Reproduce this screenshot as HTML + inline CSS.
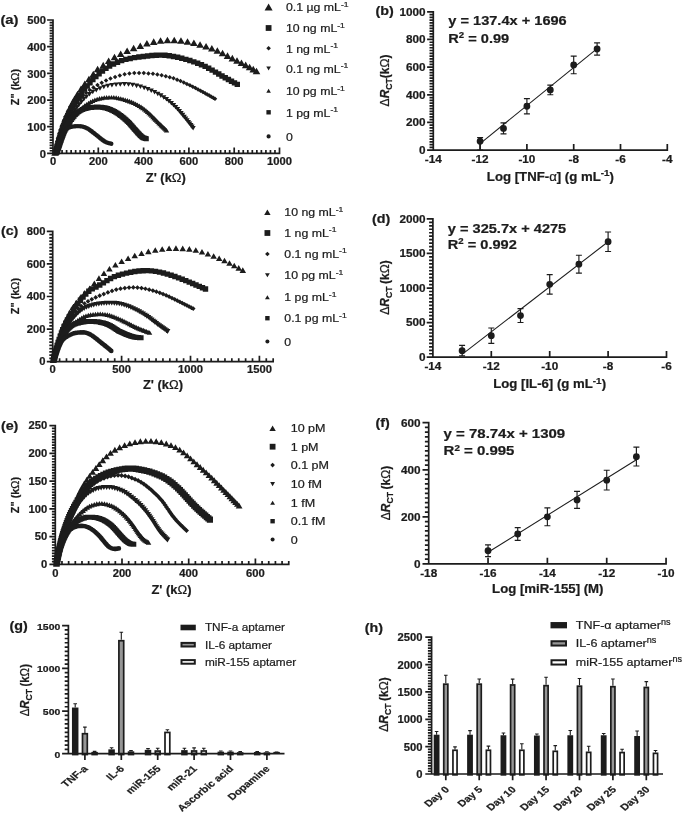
<!DOCTYPE html>
<html><head><meta charset="utf-8"><title>Figure</title><style>html,body{margin:0;padding:0;background:#fff}svg{display:block}text{stroke:#1c1c1c;stroke-width:.22px}</style></head><body>
<svg width="685" height="817" viewBox="0 0 685 817" font-family='"Liberation Sans", Arial, Helvetica, sans-serif' fill="#1c1c1c">
<rect width="685" height="817" fill="#fff"/>
<path d="M53,19.15V153.4H280.35M53,153.4v-5.9M98.3,153.4v-5.9M143.6,153.4v-5.9M188.9,153.4v-5.9M234.2,153.4v-5.9M279.5,153.4v-5.9M57.53,153.4v-3.4M62.06,153.4v-3.4M66.59,153.4v-3.4M71.12,153.4v-3.4M75.65,153.4v-3.4M80.18,153.4v-3.4M84.71,153.4v-3.4M89.24,153.4v-3.4M93.77,153.4v-3.4M102.83,153.4v-3.4M107.36,153.4v-3.4M111.89,153.4v-3.4M116.42,153.4v-3.4M120.95,153.4v-3.4M125.48,153.4v-3.4M130.01,153.4v-3.4M134.54,153.4v-3.4M139.07,153.4v-3.4M148.13,153.4v-3.4M152.66,153.4v-3.4M157.19,153.4v-3.4M161.72,153.4v-3.4M166.25,153.4v-3.4M170.78,153.4v-3.4M175.31,153.4v-3.4M179.84,153.4v-3.4M184.37,153.4v-3.4M193.43,153.4v-3.4M197.96,153.4v-3.4M202.49,153.4v-3.4M207.02,153.4v-3.4M211.55,153.4v-3.4M216.08,153.4v-3.4M220.61,153.4v-3.4M225.14,153.4v-3.4M229.67,153.4v-3.4M238.73,153.4v-3.4M243.26,153.4v-3.4M247.79,153.4v-3.4M252.32,153.4v-3.4M256.85,153.4v-3.4M261.38,153.4v-3.4M265.91,153.4v-3.4M270.44,153.4v-3.4M274.97,153.4v-3.4M53,153.4h-5.9M53,126.72h-5.9M53,100.04h-5.9M53,73.36h-5.9M53,46.68h-5.9M53,20h-5.9M53,150.73h-3.4M53,148.06h-3.4M53,145.4h-3.4M53,142.73h-3.4M53,140.06h-3.4M53,137.39h-3.4M53,134.72h-3.4M53,132.06h-3.4M53,129.39h-3.4M53,124.05h-3.4M53,121.38h-3.4M53,118.72h-3.4M53,116.05h-3.4M53,113.38h-3.4M53,110.71h-3.4M53,108.04h-3.4M53,105.38h-3.4M53,102.71h-3.4M53,97.37h-3.4M53,94.7h-3.4M53,92.04h-3.4M53,89.37h-3.4M53,86.7h-3.4M53,84.03h-3.4M53,81.36h-3.4M53,78.7h-3.4M53,76.03h-3.4M53,70.69h-3.4M53,68.02h-3.4M53,65.36h-3.4M53,62.69h-3.4M53,60.02h-3.4M53,57.35h-3.4M53,54.68h-3.4M53,52.02h-3.4M53,49.35h-3.4M53,44.01h-3.4M53,41.34h-3.4M53,38.68h-3.4M53,36.01h-3.4M53,33.34h-3.4M53,30.67h-3.4M53,28h-3.4M53,25.34h-3.4M53,22.67h-3.4" fill="none" stroke="#1c1c1c" stroke-width="1.7"/>
<text transform="translate(53 165.4) scale(1.12 1)" font-size="10" font-weight="bold" text-anchor="middle">0</text>
<text transform="translate(98.3 165.4) scale(1.12 1)" font-size="10" font-weight="bold" text-anchor="middle">200</text>
<text transform="translate(143.6 165.4) scale(1.12 1)" font-size="10" font-weight="bold" text-anchor="middle">400</text>
<text transform="translate(188.9 165.4) scale(1.12 1)" font-size="10" font-weight="bold" text-anchor="middle">600</text>
<text transform="translate(234.2 165.4) scale(1.12 1)" font-size="10" font-weight="bold" text-anchor="middle">800</text>
<text transform="translate(279.5 165.4) scale(1.12 1)" font-size="10" font-weight="bold" text-anchor="middle">1000</text>
<text transform="translate(46 157.6) scale(1.12 1)" font-size="10" font-weight="bold" text-anchor="end">0</text>
<text transform="translate(46 130.92) scale(1.12 1)" font-size="10" font-weight="bold" text-anchor="end">100</text>
<text transform="translate(46 104.24) scale(1.12 1)" font-size="10" font-weight="bold" text-anchor="end">200</text>
<text transform="translate(46 77.56) scale(1.12 1)" font-size="10" font-weight="bold" text-anchor="end">300</text>
<text transform="translate(46 50.88) scale(1.12 1)" font-size="10" font-weight="bold" text-anchor="end">400</text>
<text transform="translate(46 24.2) scale(1.12 1)" font-size="10" font-weight="bold" text-anchor="end">500</text>
<text transform="translate(0.4 24.3) scale(1.14 1)" font-size="13" font-weight="bold">(a)</text>
<text transform="translate(18.8 87) rotate(-90)" font-size="10.9" font-weight="bold" text-anchor="middle">Z" (k<tspan font-weight="normal">Ω</tspan>)</text>
<text transform="translate(165.8 181.8) scale(1.08 1)" font-size="12" font-weight="bold" text-anchor="middle">Z' (k<tspan font-weight="normal">Ω</tspan>)</text>
<path d="M51.3,155.87h7.6l-3.8,-6.54zM51.77,153.87h7.6l-3.8,-6.54zM52.36,151.42h7.6l-3.8,-6.54zM53.03,148.62h7.6l-3.8,-6.54zM53.8,145.52h7.6l-3.8,-6.54zM54.67,142.13h7.6l-3.8,-6.54zM55.66,138.48h7.6l-3.8,-6.54zM56.78,134.58h7.6l-3.8,-6.54zM58.07,130.46h7.6l-3.8,-6.54zM59.55,126.14h7.6l-3.8,-6.54zM61.27,121.63h7.6l-3.8,-6.54zM63.25,116.98h7.6l-3.8,-6.54zM65.47,112.18h7.6l-3.8,-6.54zM67.92,107.25h7.6l-3.8,-6.54zM70.65,102.22h7.6l-3.8,-6.54zM73.73,97.17h7.6l-3.8,-6.54zM77.19,92.15h7.6l-3.8,-6.54zM80.96,87.13h7.6l-3.8,-6.54zM85.11,82.23h7.6l-3.8,-6.54zM89.49,77.32h7.6l-3.8,-6.54zM93.81,72.2h7.6l-3.8,-6.54zM99.43,68.38h7.6l-3.8,-6.54zM104.86,64.12h7.6l-3.8,-6.54zM110.7,60.31h7.6l-3.8,-6.54zM116.89,57.01h7.6l-3.8,-6.54zM123.33,54.12h7.6l-3.8,-6.54zM129.83,51.35h7.6l-3.8,-6.54zM136.48,48.96h7.6l-3.8,-6.54zM143.11,46.59h7.6l-3.8,-6.54zM149.9,44.89h7.6l-3.8,-6.54zM156.76,43.73h7.6l-3.8,-6.54zM163.63,43.19h7.6l-3.8,-6.54zM170.45,43.2h7.6l-3.8,-6.54zM177.17,43.72h7.6l-3.8,-6.54zM183.72,44.69h7.6l-3.8,-6.54zM190.1,46.07h7.6l-3.8,-6.54zM196.27,47.72h7.6l-3.8,-6.54zM202.26,49.54h7.6l-3.8,-6.54zM208.04,51.54h7.6l-3.8,-6.54zM213.55,53.81h7.6l-3.8,-6.54zM218.76,56.32h7.6l-3.8,-6.54zM223.73,58.91h7.6l-3.8,-6.54zM228.54,61.4h7.6l-3.8,-6.54zM233.2,63.72h7.6l-3.8,-6.54zM237.67,65.95h7.6l-3.8,-6.54zM241.88,68.15h7.6l-3.8,-6.54zM245.81,70.32h7.6l-3.8,-6.54zM249.45,72.39h7.6l-3.8,-6.54zM252.7,74.27h7.6l-3.8,-6.54z" fill="#1c1c1c"/>
<path d="M52.9,149.9h5.4v5.4h-5.4zM53.4,147.99h5.4v5.4h-5.4zM53.98,145.76h5.4v5.4h-5.4zM54.62,143.33h5.4v5.4h-5.4zM55.32,140.74h5.4v5.4h-5.4zM56.08,138.01h5.4v5.4h-5.4zM56.89,135.16h5.4v5.4h-5.4zM57.77,132.21h5.4v5.4h-5.4zM58.73,129.17h5.4v5.4h-5.4zM59.78,126.04h5.4v5.4h-5.4zM60.92,122.85h5.4v5.4h-5.4zM62.18,119.61h5.4v5.4h-5.4zM63.56,116.32h5.4v5.4h-5.4zM65.07,113.01h5.4v5.4h-5.4zM66.7,109.66h5.4v5.4h-5.4zM68.43,106.29h5.4v5.4h-5.4zM70.27,102.9h5.4v5.4h-5.4zM72.22,99.5h5.4v5.4h-5.4zM74.34,96.14h5.4v5.4h-5.4zM76.65,92.83h5.4v5.4h-5.4zM79.13,89.59h5.4v5.4h-5.4zM81.76,86.4h5.4v5.4h-5.4zM84.49,83.23h5.4v5.4h-5.4zM87.29,80.09h5.4v5.4h-5.4zM90.17,76.95h5.4v5.4h-5.4zM93.18,73.91h5.4v5.4h-5.4zM96.41,71.04h5.4v5.4h-5.4zM99.78,68.31h5.4v5.4h-5.4zM103.25,65.67h5.4v5.4h-5.4zM106.9,63.26h5.4v5.4h-5.4zM110.82,61.27h5.4v5.4h-5.4zM114.84,59.5h5.4v5.4h-5.4zM118.96,57.94h5.4v5.4h-5.4zM123.19,56.7h5.4v5.4h-5.4zM127.5,55.74h5.4v5.4h-5.4zM131.83,54.97h5.4v5.4h-5.4zM136.19,54.34h5.4v5.4h-5.4zM140.55,53.84h5.4v5.4h-5.4zM144.91,53.34h5.4v5.4h-5.4zM149.25,52.84h5.4v5.4h-5.4zM153.6,52.5h5.4v5.4h-5.4zM157.94,52.41h5.4v5.4h-5.4zM162.27,52.62h5.4v5.4h-5.4zM166.55,53.09h5.4v5.4h-5.4zM170.78,53.77h5.4v5.4h-5.4zM174.96,54.61h5.4v5.4h-5.4zM179.08,55.59h5.4v5.4h-5.4zM183.15,56.68h5.4v5.4h-5.4zM187.16,57.87h5.4v5.4h-5.4zM191.1,59.14h5.4v5.4h-5.4zM194.98,60.52h5.4v5.4h-5.4zM198.76,62.03h5.4v5.4h-5.4zM202.43,63.7h5.4v5.4h-5.4zM205.98,65.52h5.4v5.4h-5.4zM209.42,67.44h5.4v5.4h-5.4zM212.78,69.41h5.4v5.4h-5.4zM216.07,71.36h5.4v5.4h-5.4zM219.33,73.25h5.4v5.4h-5.4zM222.55,75.08h5.4v5.4h-5.4zM225.71,76.84h5.4v5.4h-5.4zM228.8,78.54h5.4v5.4h-5.4zM231.78,80.17h5.4v5.4h-5.4zM234.6,81.7h5.4v5.4h-5.4z" fill="#1c1c1c"/>
<path d="M53.75,152.6l2.25,-2.25l2.25,2.25l-2.25,2.25zM54.09,151.4l2.25,-2.25l2.25,2.25l-2.25,2.25zM54.44,150.14l2.25,-2.25l2.25,2.25l-2.25,2.25zM54.82,148.8l2.25,-2.25l2.25,2.25l-2.25,2.25zM55.23,147.39l2.25,-2.25l2.25,2.25l-2.25,2.25zM55.66,145.89l2.25,-2.25l2.25,2.25l-2.25,2.25zM56.12,144.31l2.25,-2.25l2.25,2.25l-2.25,2.25zM56.62,142.64l2.25,-2.25l2.25,2.25l-2.25,2.25zM57.15,140.87l2.25,-2.25l2.25,2.25l-2.25,2.25zM57.73,139.01l2.25,-2.25l2.25,2.25l-2.25,2.25zM58.36,137.05l2.25,-2.25l2.25,2.25l-2.25,2.25zM59.05,134.99l2.25,-2.25l2.25,2.25l-2.25,2.25zM59.81,132.82l2.25,-2.25l2.25,2.25l-2.25,2.25zM60.64,130.55l2.25,-2.25l2.25,2.25l-2.25,2.25zM61.56,128.16l2.25,-2.25l2.25,2.25l-2.25,2.25zM62.57,125.66l2.25,-2.25l2.25,2.25l-2.25,2.25zM63.69,123.06l2.25,-2.25l2.25,2.25l-2.25,2.25zM64.92,120.35l2.25,-2.25l2.25,2.25l-2.25,2.25zM66.29,117.53l2.25,-2.25l2.25,2.25l-2.25,2.25zM67.81,114.62l2.25,-2.25l2.25,2.25l-2.25,2.25zM69.48,111.61l2.25,-2.25l2.25,2.25l-2.25,2.25zM71.33,108.53l2.25,-2.25l2.25,2.25l-2.25,2.25zM73.36,105.38l2.25,-2.25l2.25,2.25l-2.25,2.25zM75.61,102.19l2.25,-2.25l2.25,2.25l-2.25,2.25zM78.1,98.99l2.25,-2.25l2.25,2.25l-2.25,2.25zM80.87,95.83l2.25,-2.25l2.25,2.25l-2.25,2.25zM83.97,92.8l2.25,-2.25l2.25,2.25l-2.25,2.25zM87.43,89.98l2.25,-2.25l2.25,2.25l-2.25,2.25zM91.2,87.38l2.25,-2.25l2.25,2.25l-2.25,2.25zM95.23,84.99l2.25,-2.25l2.25,2.25l-2.25,2.25zM99.46,82.79l2.25,-2.25l2.25,2.25l-2.25,2.25zM103.79,80.62l2.25,-2.25l2.25,2.25l-2.25,2.25zM108.22,78.57l2.25,-2.25l2.25,2.25l-2.25,2.25zM112.85,76.89l2.25,-2.25l2.25,2.25l-2.25,2.25zM117.55,75.43l2.25,-2.25l2.25,2.25l-2.25,2.25zM122.35,74.33l2.25,-2.25l2.25,2.25l-2.25,2.25zM127.19,73.57l2.25,-2.25l2.25,2.25l-2.25,2.25zM132.02,73.1l2.25,-2.25l2.25,2.25l-2.25,2.25zM136.82,72.99l2.25,-2.25l2.25,2.25l-2.25,2.25zM141.55,73.04l2.25,-2.25l2.25,2.25l-2.25,2.25zM146.18,73.46l2.25,-2.25l2.25,2.25l-2.25,2.25zM150.71,73.87l2.25,-2.25l2.25,2.25l-2.25,2.25zM155.11,74.54l2.25,-2.25l2.25,2.25l-2.25,2.25zM159.38,75.29l2.25,-2.25l2.25,2.25l-2.25,2.25zM163.52,76.13l2.25,-2.25l2.25,2.25l-2.25,2.25zM167.48,77.14l2.25,-2.25l2.25,2.25l-2.25,2.25zM171.26,78.35l2.25,-2.25l2.25,2.25l-2.25,2.25zM174.85,79.69l2.25,-2.25l2.25,2.25l-2.25,2.25zM178.27,81.1l2.25,-2.25l2.25,2.25l-2.25,2.25zM181.55,82.52l2.25,-2.25l2.25,2.25l-2.25,2.25zM184.67,83.93l2.25,-2.25l2.25,2.25l-2.25,2.25zM187.66,85.33l2.25,-2.25l2.25,2.25l-2.25,2.25zM190.51,86.72l2.25,-2.25l2.25,2.25l-2.25,2.25zM193.23,88.08l2.25,-2.25l2.25,2.25l-2.25,2.25zM195.83,89.41l2.25,-2.25l2.25,2.25l-2.25,2.25zM198.3,90.71l2.25,-2.25l2.25,2.25l-2.25,2.25zM200.66,91.98l2.25,-2.25l2.25,2.25l-2.25,2.25zM202.92,93.21l2.25,-2.25l2.25,2.25l-2.25,2.25zM205.07,94.39l2.25,-2.25l2.25,2.25l-2.25,2.25zM207.12,95.54l2.25,-2.25l2.25,2.25l-2.25,2.25zM209.08,96.64l2.25,-2.25l2.25,2.25l-2.25,2.25zM210.96,97.69l2.25,-2.25l2.25,2.25l-2.25,2.25zM212.75,98.7l2.25,-2.25l2.25,2.25l-2.25,2.25z" fill="#1c1c1c"/>
<path d="M53.65,150.32h5.3l-2.65,4.56zM53.96,149.24h5.3l-2.65,4.56zM54.3,148.11h5.3l-2.65,4.56zM54.65,146.92h5.3l-2.65,4.56zM55.02,145.66h5.3l-2.65,4.56zM55.41,144.34h5.3l-2.65,4.56zM55.84,142.96h5.3l-2.65,4.56zM56.29,141.5h5.3l-2.65,4.56zM56.78,139.98h5.3l-2.65,4.56zM57.3,138.38h5.3l-2.65,4.56zM57.88,136.7h5.3l-2.65,4.56zM58.5,134.95h5.3l-2.65,4.56zM59.19,133.12h5.3l-2.65,4.56zM59.94,131.21h5.3l-2.65,4.56zM60.77,129.22h5.3l-2.65,4.56zM61.68,127.15h5.3l-2.65,4.56zM62.67,125h5.3l-2.65,4.56zM63.74,122.76h5.3l-2.65,4.56zM64.89,120.44h5.3l-2.65,4.56zM66.13,118.03h5.3l-2.65,4.56zM67.48,115.55h5.3l-2.65,4.56zM68.95,112.99h5.3l-2.65,4.56zM70.58,110.39h5.3l-2.65,4.56zM72.37,107.75h5.3l-2.65,4.56zM74.34,105.1h5.3l-2.65,4.56zM76.48,102.43h5.3l-2.65,4.56zM78.77,99.73h5.3l-2.65,4.56zM81.21,97.03h5.3l-2.65,4.56zM83.88,94.4h5.3l-2.65,4.56zM86.84,91.97h5.3l-2.65,4.56zM90.12,89.81h5.3l-2.65,4.56zM93.63,87.91h5.3l-2.65,4.56zM97.32,86.22h5.3l-2.65,4.56zM101.17,84.78h5.3l-2.65,4.56zM105.18,83.71h5.3l-2.65,4.56zM109.28,82.99h5.3l-2.65,4.56zM113.44,82.54h5.3l-2.65,4.56zM117.59,82.18h5.3l-2.65,4.56zM121.75,82.02h5.3l-2.65,4.56zM125.87,82.25h5.3l-2.65,4.56zM129.92,82.81h5.3l-2.65,4.56zM133.89,83.58h5.3l-2.65,4.56zM137.76,84.55h5.3l-2.65,4.56zM141.51,85.69h5.3l-2.65,4.56zM145.11,87.02h5.3l-2.65,4.56zM148.58,88.49h5.3l-2.65,4.56zM151.92,90.03h5.3l-2.65,4.56zM155.13,91.64h5.3l-2.65,4.56zM158.18,93.34h5.3l-2.65,4.56zM161.05,95.15h5.3l-2.65,4.56zM163.75,97.04h5.3l-2.65,4.56zM166.28,98.98h5.3l-2.65,4.56zM168.65,100.96h5.3l-2.65,4.56zM170.87,102.97h5.3l-2.65,4.56zM172.93,104.99h5.3l-2.65,4.56zM174.86,107h5.3l-2.65,4.56zM176.67,108.99h5.3l-2.65,4.56zM178.37,110.94h5.3l-2.65,4.56zM179.98,112.84h5.3l-2.65,4.56zM181.5,114.7h5.3l-2.65,4.56zM182.96,116.49h5.3l-2.65,4.56zM184.35,118.23h5.3l-2.65,4.56zM185.68,119.9h5.3l-2.65,4.56zM186.95,121.52h5.3l-2.65,4.56zM188.16,123.08h5.3l-2.65,4.56zM189.33,124.58h5.3l-2.65,4.56zM190.45,126.02h5.3l-2.65,4.56z" fill="#1c1c1c"/>
<path d="M53.95,154.88h5.3l-2.65,-4.56zM54.26,153.91h5.3l-2.65,-4.56zM54.58,152.91h5.3l-2.65,-4.56zM54.91,151.88h5.3l-2.65,-4.56zM55.25,150.82h5.3l-2.65,-4.56zM55.6,149.74h5.3l-2.65,-4.56zM55.97,148.62h5.3l-2.65,-4.56zM56.36,147.47h5.3l-2.65,-4.56zM56.77,146.29h5.3l-2.65,-4.56zM57.19,145.07h5.3l-2.65,-4.56zM57.64,143.83h5.3l-2.65,-4.56zM58.12,142.55h5.3l-2.65,-4.56zM58.62,141.25h5.3l-2.65,-4.56zM59.16,139.91h5.3l-2.65,-4.56zM59.73,138.55h5.3l-2.65,-4.56zM60.35,137.16h5.3l-2.65,-4.56zM61,135.74h5.3l-2.65,-4.56zM61.7,134.29h5.3l-2.65,-4.56zM62.44,132.82h5.3l-2.65,-4.56zM63.23,131.32h5.3l-2.65,-4.56zM64.07,129.8h5.3l-2.65,-4.56zM64.95,128.26h5.3l-2.65,-4.56zM65.89,126.7h5.3l-2.65,-4.56zM66.88,125.12h5.3l-2.65,-4.56zM67.92,123.53h5.3l-2.65,-4.56zM69.03,121.92h5.3l-2.65,-4.56zM70.19,120.3h5.3l-2.65,-4.56zM71.42,118.68h5.3l-2.65,-4.56zM72.71,117.05h5.3l-2.65,-4.56zM74.07,115.44h5.3l-2.65,-4.56zM75.5,113.83h5.3l-2.65,-4.56zM77,112.25h5.3l-2.65,-4.56zM78.6,110.71h5.3l-2.65,-4.56zM80.28,109.21h5.3l-2.65,-4.56zM82.05,107.79h5.3l-2.65,-4.56zM83.93,106.44h5.3l-2.65,-4.56zM85.89,105.19h5.3l-2.65,-4.56zM87.94,104.04h5.3l-2.65,-4.56zM90.07,102.99h5.3l-2.65,-4.56zM92.26,102.06h5.3l-2.65,-4.56zM94.52,101.28h5.3l-2.65,-4.56zM96.84,100.66h5.3l-2.65,-4.56zM99.21,100.21h5.3l-2.65,-4.56zM101.59,99.87h5.3l-2.65,-4.56zM103.98,99.64h5.3l-2.65,-4.56zM106.38,99.51h5.3l-2.65,-4.56zM108.78,99.48h5.3l-2.65,-4.56zM111.16,99.56h5.3l-2.65,-4.56zM113.52,99.79h5.3l-2.65,-4.56zM115.85,100.19h5.3l-2.65,-4.56zM118.12,100.74h5.3l-2.65,-4.56zM120.36,101.37h5.3l-2.65,-4.56zM122.57,102.02h5.3l-2.65,-4.56zM124.75,102.68h5.3l-2.65,-4.56zM126.9,103.39h5.3l-2.65,-4.56zM128.99,104.17h5.3l-2.65,-4.56zM131,105.07h5.3l-2.65,-4.56zM132.95,106.04h5.3l-2.65,-4.56zM134.83,107.06h5.3l-2.65,-4.56zM136.67,108.11h5.3l-2.65,-4.56zM138.46,109.18h5.3l-2.65,-4.56zM140.18,110.3h5.3l-2.65,-4.56zM141.82,111.48h5.3l-2.65,-4.56zM143.37,112.72h5.3l-2.65,-4.56zM144.85,113.99h5.3l-2.65,-4.56zM146.27,115.28h5.3l-2.65,-4.56zM147.63,116.57h5.3l-2.65,-4.56zM148.96,117.86h5.3l-2.65,-4.56zM150.24,119.13h5.3l-2.65,-4.56zM151.5,120.39h5.3l-2.65,-4.56zM152.72,121.64h5.3l-2.65,-4.56zM153.92,122.85h5.3l-2.65,-4.56zM155.1,124.04h5.3l-2.65,-4.56zM156.27,125.2h5.3l-2.65,-4.56zM157.42,126.32h5.3l-2.65,-4.56zM158.55,127.41h5.3l-2.65,-4.56zM159.67,128.48h5.3l-2.65,-4.56zM160.77,129.51h5.3l-2.65,-4.56zM161.85,130.52h5.3l-2.65,-4.56zM162.91,131.51h5.3l-2.65,-4.56zM163.95,132.48h5.3l-2.65,-4.56z" fill="#1c1c1c"/>
<path d="M54.4,150.1h5v5h-5zM54.66,149.33h5v5h-5zM54.92,148.55h5v5h-5zM55.19,147.75h5v5h-5zM55.46,146.94h5v5h-5zM55.74,146.11h5v5h-5zM56.03,145.27h5v5h-5zM56.32,144.4h5v5h-5zM56.61,143.52h5v5h-5zM56.92,142.63h5v5h-5zM57.23,141.71h5v5h-5zM57.54,140.78h5v5h-5zM57.86,139.83h5v5h-5zM58.19,138.86h5v5h-5zM58.53,137.88h5v5h-5zM58.87,136.87h5v5h-5zM59.22,135.85h5v5h-5zM59.58,134.81h5v5h-5zM59.95,133.75h5v5h-5zM60.33,132.67h5v5h-5zM60.73,131.58h5v5h-5zM61.15,130.47h5v5h-5zM61.59,129.35h5v5h-5zM62.05,128.22h5v5h-5zM62.54,127.07h5v5h-5zM63.06,125.92h5v5h-5zM63.62,124.76h5v5h-5zM64.21,123.6h5v5h-5zM64.85,122.43h5v5h-5zM65.52,121.27h5v5h-5zM66.24,120.11h5v5h-5zM67,118.95h5v5h-5zM67.79,117.8h5v5h-5zM68.63,116.65h5v5h-5zM69.51,115.51h5v5h-5zM70.44,114.39h5v5h-5zM71.42,113.29h5v5h-5zM72.44,112.22h5v5h-5zM73.53,111.18h5v5h-5zM74.68,110.19h5v5h-5zM75.9,109.27h5v5h-5zM77.19,108.42h5v5h-5zM78.54,107.67h5v5h-5zM79.96,107.02h5v5h-5zM81.43,106.47h5v5h-5zM82.94,106.01h5v5h-5zM84.48,105.63h5v5h-5zM86.04,105.33h5v5h-5zM87.62,105.09h5v5h-5zM89.21,104.9h5v5h-5zM90.8,104.76h5v5h-5zM92.4,104.66h5v5h-5zM94,104.61h5v5h-5zM95.6,104.6h5v5h-5zM97.19,104.66h5v5h-5zM98.78,104.79h5v5h-5zM100.35,104.98h5v5h-5zM101.91,105.25h5v5h-5zM103.44,105.6h5v5h-5zM104.94,106.03h5v5h-5zM106.41,106.53h5v5h-5zM107.84,107.09h5v5h-5zM109.24,107.7h5v5h-5zM110.61,108.36h5v5h-5zM111.94,109.06h5v5h-5zM113.23,109.79h5v5h-5zM114.49,110.56h5v5h-5zM115.71,111.34h5v5h-5zM116.9,112.15h5v5h-5zM118.06,112.97h5v5h-5zM119.18,113.81h5v5h-5zM120.27,114.67h5v5h-5zM121.32,115.54h5v5h-5zM122.35,116.41h5v5h-5zM123.33,117.3h5v5h-5zM124.29,118.18h5v5h-5zM125.22,119.08h5v5h-5zM126.11,119.97h5v5h-5zM126.98,120.87h5v5h-5zM127.81,121.76h5v5h-5zM128.62,122.66h5v5h-5zM129.41,123.54h5v5h-5zM130.17,124.42h5v5h-5zM130.92,125.28h5v5h-5zM131.65,126.13h5v5h-5zM132.37,126.97h5v5h-5zM133.07,127.79h5v5h-5zM133.77,128.59h5v5h-5zM134.46,129.37h5v5h-5zM135.14,130.13h5v5h-5zM135.82,130.87h5v5h-5zM136.49,131.58h5v5h-5zM137.16,132.28h5v5h-5zM137.84,132.94h5v5h-5zM138.52,133.57h5v5h-5zM139.22,134.16h5v5h-5zM139.94,134.68h5v5h-5zM140.69,135.14h5v5h-5zM141.45,135.52h5v5h-5zM142.24,135.83h5v5h-5zM143.02,136.08h5v5h-5zM143.8,136.3h5v5h-5z" fill="#1c1c1c"/>
<path d="M55,152.6a2.2,2.2 0 1,0 4.4,0a2.2,2.2 0 1,0 -4.4,0zM55.13,151.91a2.2,2.2 0 1,0 4.4,0a2.2,2.2 0 1,0 -4.4,0zM55.27,151.2a2.2,2.2 0 1,0 4.4,0a2.2,2.2 0 1,0 -4.4,0zM55.41,150.48a2.2,2.2 0 1,0 4.4,0a2.2,2.2 0 1,0 -4.4,0zM55.56,149.74a2.2,2.2 0 1,0 4.4,0a2.2,2.2 0 1,0 -4.4,0zM55.71,148.99a2.2,2.2 0 1,0 4.4,0a2.2,2.2 0 1,0 -4.4,0zM55.87,148.23a2.2,2.2 0 1,0 4.4,0a2.2,2.2 0 1,0 -4.4,0zM56.03,147.44a2.2,2.2 0 1,0 4.4,0a2.2,2.2 0 1,0 -4.4,0zM56.2,146.65a2.2,2.2 0 1,0 4.4,0a2.2,2.2 0 1,0 -4.4,0zM56.38,145.84a2.2,2.2 0 1,0 4.4,0a2.2,2.2 0 1,0 -4.4,0zM56.57,145.01a2.2,2.2 0 1,0 4.4,0a2.2,2.2 0 1,0 -4.4,0zM56.77,144.17a2.2,2.2 0 1,0 4.4,0a2.2,2.2 0 1,0 -4.4,0zM56.98,143.32a2.2,2.2 0 1,0 4.4,0a2.2,2.2 0 1,0 -4.4,0zM57.2,142.45a2.2,2.2 0 1,0 4.4,0a2.2,2.2 0 1,0 -4.4,0zM57.44,141.57a2.2,2.2 0 1,0 4.4,0a2.2,2.2 0 1,0 -4.4,0zM57.69,140.67a2.2,2.2 0 1,0 4.4,0a2.2,2.2 0 1,0 -4.4,0zM57.97,139.76a2.2,2.2 0 1,0 4.4,0a2.2,2.2 0 1,0 -4.4,0zM58.27,138.85a2.2,2.2 0 1,0 4.4,0a2.2,2.2 0 1,0 -4.4,0zM58.59,137.92a2.2,2.2 0 1,0 4.4,0a2.2,2.2 0 1,0 -4.4,0zM58.95,136.99a2.2,2.2 0 1,0 4.4,0a2.2,2.2 0 1,0 -4.4,0zM59.35,136.06a2.2,2.2 0 1,0 4.4,0a2.2,2.2 0 1,0 -4.4,0zM59.78,135.12a2.2,2.2 0 1,0 4.4,0a2.2,2.2 0 1,0 -4.4,0zM60.27,134.2a2.2,2.2 0 1,0 4.4,0a2.2,2.2 0 1,0 -4.4,0zM60.8,133.28a2.2,2.2 0 1,0 4.4,0a2.2,2.2 0 1,0 -4.4,0zM61.39,132.38a2.2,2.2 0 1,0 4.4,0a2.2,2.2 0 1,0 -4.4,0zM62.04,131.51a2.2,2.2 0 1,0 4.4,0a2.2,2.2 0 1,0 -4.4,0zM62.75,130.66a2.2,2.2 0 1,0 4.4,0a2.2,2.2 0 1,0 -4.4,0zM63.52,129.86a2.2,2.2 0 1,0 4.4,0a2.2,2.2 0 1,0 -4.4,0zM64.37,129.11a2.2,2.2 0 1,0 4.4,0a2.2,2.2 0 1,0 -4.4,0zM65.29,128.44a2.2,2.2 0 1,0 4.4,0a2.2,2.2 0 1,0 -4.4,0zM66.28,127.86a2.2,2.2 0 1,0 4.4,0a2.2,2.2 0 1,0 -4.4,0zM67.34,127.38a2.2,2.2 0 1,0 4.4,0a2.2,2.2 0 1,0 -4.4,0zM68.45,127.01a2.2,2.2 0 1,0 4.4,0a2.2,2.2 0 1,0 -4.4,0zM69.59,126.72a2.2,2.2 0 1,0 4.4,0a2.2,2.2 0 1,0 -4.4,0zM70.75,126.5a2.2,2.2 0 1,0 4.4,0a2.2,2.2 0 1,0 -4.4,0zM71.92,126.34a2.2,2.2 0 1,0 4.4,0a2.2,2.2 0 1,0 -4.4,0zM73.11,126.22a2.2,2.2 0 1,0 4.4,0a2.2,2.2 0 1,0 -4.4,0zM74.3,126.15a2.2,2.2 0 1,0 4.4,0a2.2,2.2 0 1,0 -4.4,0zM75.5,126.12a2.2,2.2 0 1,0 4.4,0a2.2,2.2 0 1,0 -4.4,0zM76.7,126.15a2.2,2.2 0 1,0 4.4,0a2.2,2.2 0 1,0 -4.4,0zM77.89,126.24a2.2,2.2 0 1,0 4.4,0a2.2,2.2 0 1,0 -4.4,0zM79.07,126.4a2.2,2.2 0 1,0 4.4,0a2.2,2.2 0 1,0 -4.4,0zM80.24,126.62a2.2,2.2 0 1,0 4.4,0a2.2,2.2 0 1,0 -4.4,0zM81.4,126.91a2.2,2.2 0 1,0 4.4,0a2.2,2.2 0 1,0 -4.4,0zM82.52,127.27a2.2,2.2 0 1,0 4.4,0a2.2,2.2 0 1,0 -4.4,0zM83.62,127.7a2.2,2.2 0 1,0 4.4,0a2.2,2.2 0 1,0 -4.4,0zM84.68,128.19a2.2,2.2 0 1,0 4.4,0a2.2,2.2 0 1,0 -4.4,0zM85.7,128.74a2.2,2.2 0 1,0 4.4,0a2.2,2.2 0 1,0 -4.4,0zM86.68,129.34a2.2,2.2 0 1,0 4.4,0a2.2,2.2 0 1,0 -4.4,0zM87.63,129.97a2.2,2.2 0 1,0 4.4,0a2.2,2.2 0 1,0 -4.4,0zM88.54,130.63a2.2,2.2 0 1,0 4.4,0a2.2,2.2 0 1,0 -4.4,0zM89.44,131.3a2.2,2.2 0 1,0 4.4,0a2.2,2.2 0 1,0 -4.4,0zM90.31,131.98a2.2,2.2 0 1,0 4.4,0a2.2,2.2 0 1,0 -4.4,0zM91.17,132.64a2.2,2.2 0 1,0 4.4,0a2.2,2.2 0 1,0 -4.4,0zM92.02,133.3a2.2,2.2 0 1,0 4.4,0a2.2,2.2 0 1,0 -4.4,0zM92.86,133.96a2.2,2.2 0 1,0 4.4,0a2.2,2.2 0 1,0 -4.4,0zM93.68,134.6a2.2,2.2 0 1,0 4.4,0a2.2,2.2 0 1,0 -4.4,0zM94.49,135.24a2.2,2.2 0 1,0 4.4,0a2.2,2.2 0 1,0 -4.4,0zM95.28,135.87a2.2,2.2 0 1,0 4.4,0a2.2,2.2 0 1,0 -4.4,0zM96.06,136.5a2.2,2.2 0 1,0 4.4,0a2.2,2.2 0 1,0 -4.4,0zM96.82,137.12a2.2,2.2 0 1,0 4.4,0a2.2,2.2 0 1,0 -4.4,0zM97.57,137.73a2.2,2.2 0 1,0 4.4,0a2.2,2.2 0 1,0 -4.4,0zM98.3,138.33a2.2,2.2 0 1,0 4.4,0a2.2,2.2 0 1,0 -4.4,0zM99.02,138.92a2.2,2.2 0 1,0 4.4,0a2.2,2.2 0 1,0 -4.4,0zM99.74,139.48a2.2,2.2 0 1,0 4.4,0a2.2,2.2 0 1,0 -4.4,0zM100.46,140.02a2.2,2.2 0 1,0 4.4,0a2.2,2.2 0 1,0 -4.4,0zM101.18,140.53a2.2,2.2 0 1,0 4.4,0a2.2,2.2 0 1,0 -4.4,0zM101.9,141a2.2,2.2 0 1,0 4.4,0a2.2,2.2 0 1,0 -4.4,0zM102.62,141.44a2.2,2.2 0 1,0 4.4,0a2.2,2.2 0 1,0 -4.4,0zM103.35,141.84a2.2,2.2 0 1,0 4.4,0a2.2,2.2 0 1,0 -4.4,0zM104.08,142.2a2.2,2.2 0 1,0 4.4,0a2.2,2.2 0 1,0 -4.4,0zM104.81,142.52a2.2,2.2 0 1,0 4.4,0a2.2,2.2 0 1,0 -4.4,0zM105.54,142.8a2.2,2.2 0 1,0 4.4,0a2.2,2.2 0 1,0 -4.4,0zM106.26,143.05a2.2,2.2 0 1,0 4.4,0a2.2,2.2 0 1,0 -4.4,0zM106.99,143.25a2.2,2.2 0 1,0 4.4,0a2.2,2.2 0 1,0 -4.4,0zM107.7,143.42a2.2,2.2 0 1,0 4.4,0a2.2,2.2 0 1,0 -4.4,0zM108.41,143.57a2.2,2.2 0 1,0 4.4,0a2.2,2.2 0 1,0 -4.4,0zM109.1,143.7a2.2,2.2 0 1,0 4.4,0a2.2,2.2 0 1,0 -4.4,0z" fill="#1c1c1c"/>
<path d="M264.6,10.44h8l-4,-6.88z" fill="#1c1c1c"/>
<text transform="translate(285.9 11.3) scale(1.1 1)" font-size="11.2">0.1 µg mL<tspan dy="-4.6" font-size="7.8">-1</tspan></text>
<path d="M265.7,25.1h5.8v5.8h-5.8z" fill="#1c1c1c"/>
<text transform="translate(285.9 32.3) scale(1.1 1)" font-size="11.2">10 ng mL<tspan dy="-4.6" font-size="7.8">-1</tspan></text>
<path d="M266.3,48.2l2.3,-2.3l2.3,2.3l-2.3,2.3z" fill="#1c1c1c"/>
<text transform="translate(285.9 52.5) scale(1.1 1)" font-size="11.2">1 ng mL<tspan dy="-4.6" font-size="7.8">-1</tspan></text>
<path d="M266.3,66.52h4.6l-2.3,3.96z" fill="#1c1c1c"/>
<text transform="translate(285.9 72.8) scale(1.1 1)" font-size="11.2">0.1 ng mL<tspan dy="-4.6" font-size="7.8">-1</tspan></text>
<path d="M266.3,92.78h4.6l-2.3,-3.96z" fill="#1c1c1c"/>
<text transform="translate(285.9 95.1) scale(1.1 1)" font-size="11.2">10 pg mL<tspan dy="-4.6" font-size="7.8">-1</tspan></text>
<path d="M266.4,110.1h4.4v4.4h-4.4z" fill="#1c1c1c"/>
<text transform="translate(285.9 116.6) scale(1.1 1)" font-size="11.2">1 pg mL<tspan dy="-4.6" font-size="7.8">-1</tspan></text>
<path d="M266.5,136.4a2.1,2.1 0 1,0 4.2,0a2.1,2.1 0 1,0 -4.2,0z" fill="#1c1c1c"/>
<text transform="translate(285.9 140.7) scale(1.1 1)" font-size="11.2">0</text>
<path d="M480.1,143.57L597.1,48.56" stroke="#1c1c1c" stroke-width="1.05" fill="none"/>
<path d="M480.1,137.51V150.1M477.1,137.51h6M477.1,150.1h6M503.5,122.85V133.92M500.5,122.85h6M500.5,133.92h6M526.9,98.65V113.87M523.9,98.65h6M523.9,113.87h6M550.3,85.1V94.78M547.3,85.1h6M547.3,94.78h6M573.7,56.06V73.76M570.7,56.06h6M570.7,73.76h6M597.1,42.92V55.09M594.1,42.92h6M594.1,55.09h6" stroke="#1c1c1c" stroke-width="1.15" fill="none"/>
<path d="M476.7,141.25a3.4,3.4 0 1,0 6.8,0a3.4,3.4 0 1,0 -6.8,0zM500.1,128.39a3.4,3.4 0 1,0 6.8,0a3.4,3.4 0 1,0 -6.8,0zM523.5,106.26a3.4,3.4 0 1,0 6.8,0a3.4,3.4 0 1,0 -6.8,0zM546.9,89.94a3.4,3.4 0 1,0 6.8,0a3.4,3.4 0 1,0 -6.8,0zM570.3,64.91a3.4,3.4 0 1,0 6.8,0a3.4,3.4 0 1,0 -6.8,0zM593.7,49a3.4,3.4 0 1,0 6.8,0a3.4,3.4 0 1,0 -6.8,0z" fill="#1c1c1c"/>
<path d="M433.3,10.95V150.1H668.15M480.1,150.1v-6.2M526.9,150.1v-6.2M573.7,150.1v-6.2M620.5,150.1v-6.2M667.3,150.1v-6.2M433.3,150.1h-6.2M433.3,122.44h-6.2M433.3,94.78h-6.2M433.3,67.12h-6.2M433.3,39.46h-6.2M433.3,11.8h-6.2M433.3,147.33h-3.8M433.3,144.57h-3.8M433.3,141.8h-3.8M433.3,139.04h-3.8M433.3,136.27h-3.8M433.3,133.5h-3.8M433.3,130.74h-3.8M433.3,127.97h-3.8M433.3,125.21h-3.8M433.3,119.67h-3.8M433.3,116.91h-3.8M433.3,114.14h-3.8M433.3,111.38h-3.8M433.3,108.61h-3.8M433.3,105.84h-3.8M433.3,103.08h-3.8M433.3,100.31h-3.8M433.3,97.55h-3.8M433.3,92.01h-3.8M433.3,89.25h-3.8M433.3,86.48h-3.8M433.3,83.72h-3.8M433.3,80.95h-3.8M433.3,78.18h-3.8M433.3,75.42h-3.8M433.3,72.65h-3.8M433.3,69.89h-3.8M433.3,64.35h-3.8M433.3,61.59h-3.8M433.3,58.82h-3.8M433.3,56.06h-3.8M433.3,53.29h-3.8M433.3,50.52h-3.8M433.3,47.76h-3.8M433.3,44.99h-3.8M433.3,42.23h-3.8M433.3,36.69h-3.8M433.3,33.93h-3.8M433.3,31.16h-3.8M433.3,28.4h-3.8M433.3,25.63h-3.8M433.3,22.86h-3.8M433.3,20.1h-3.8M433.3,17.33h-3.8M433.3,14.57h-3.8" fill="none" stroke="#1c1c1c" stroke-width="1.7"/>
<text transform="translate(480.1 162.9) scale(1.12 1)" font-size="10.5" font-weight="bold" text-anchor="middle">-12</text>
<text transform="translate(526.9 162.9) scale(1.12 1)" font-size="10.5" font-weight="bold" text-anchor="middle">-10</text>
<text transform="translate(573.7 162.9) scale(1.12 1)" font-size="10.5" font-weight="bold" text-anchor="middle">-8</text>
<text transform="translate(620.5 162.9) scale(1.12 1)" font-size="10.5" font-weight="bold" text-anchor="middle">-6</text>
<text transform="translate(667.3 162.9) scale(1.12 1)" font-size="10.5" font-weight="bold" text-anchor="middle">-4</text>
<text transform="translate(425.5 153.88) scale(1.12 1)" font-size="10.5" font-weight="bold" text-anchor="end">0</text>
<text transform="translate(425.5 126.22) scale(1.12 1)" font-size="10.5" font-weight="bold" text-anchor="end">200</text>
<text transform="translate(425.5 98.56) scale(1.12 1)" font-size="10.5" font-weight="bold" text-anchor="end">400</text>
<text transform="translate(425.5 70.9) scale(1.12 1)" font-size="10.5" font-weight="bold" text-anchor="end">600</text>
<text transform="translate(425.5 43.24) scale(1.12 1)" font-size="10.5" font-weight="bold" text-anchor="end">800</text>
<text transform="translate(425.5 15.58) scale(1.12 1)" font-size="10.5" font-weight="bold" text-anchor="end">1000</text>
<text transform="translate(433.3 162.9) scale(1.12 1)" font-size="10.5" font-weight="bold" text-anchor="middle">-14</text>
<text transform="translate(375.5 15) scale(1.1 1)" font-size="13" font-weight="bold">(b)</text>
<text transform="translate(448.3 25.2) scale(1.14 1)" font-size="12.8" font-weight="bold">y = 137.4x + 1696</text>
<text transform="translate(448.3 42.8) scale(1.14 1)" font-size="12.8" font-weight="bold">R<tspan dy="-4.5" font-size="8.4">2</tspan><tspan dy="4.5"> = 0.99</tspan></text>
<text transform="translate(389 80.5) scale(1.1 1) rotate(-90)" font-size="12" font-weight="bold" text-anchor="middle"><tspan font-weight="normal">Δ</tspan><tspan font-style="italic">R</tspan><tspan dy="2.7" font-size="8.6">CT</tspan><tspan dy="-2.7">(k</tspan><tspan font-weight="normal">Ω</tspan>)</text>
<text transform="translate(550.4 181) scale(1.1 1)" font-size="12" font-weight="bold" text-anchor="middle">Log [TNF-<tspan font-weight="normal">α</tspan>] (g mL<tspan dy="-4.8" font-size="9">-1</tspan><tspan dy="4.8">)</tspan></text>
<path d="M462.1,354.37L608.1,241.76" stroke="#1c1c1c" stroke-width="1.05" fill="none"/>
<path d="M462.1,345.38V355.89M459.1,345.38h6M459.1,355.89h6M491.3,327.95V343.3M488.3,327.95h6M488.3,343.3h6M520.5,308.66V322.49M517.5,308.66h6M517.5,322.49h6M549.7,274.57V294.07M546.7,274.57h6M546.7,294.07h6M578.9,255.2V273.18M575.9,255.2h6M575.9,273.18h6M608.1,231.97V251.47M605.1,231.97h6M605.1,251.47h6" stroke="#1c1c1c" stroke-width="1.15" fill="none"/>
<path d="M458.7,350.63a3.4,3.4 0 1,0 6.8,0a3.4,3.4 0 1,0 -6.8,0zM487.9,335.63a3.4,3.4 0 1,0 6.8,0a3.4,3.4 0 1,0 -6.8,0zM517.1,315.57a3.4,3.4 0 1,0 6.8,0a3.4,3.4 0 1,0 -6.8,0zM546.3,284.32a3.4,3.4 0 1,0 6.8,0a3.4,3.4 0 1,0 -6.8,0zM575.5,264.19a3.4,3.4 0 1,0 6.8,0a3.4,3.4 0 1,0 -6.8,0zM604.7,241.72a3.4,3.4 0 1,0 6.8,0a3.4,3.4 0 1,0 -6.8,0z" fill="#1c1c1c"/>
<path d="M432.9,218.05V357.2H667.35M491.3,357.2v-6.2M549.7,357.2v-6.2M608.1,357.2v-6.2M666.5,357.2v-6.2M432.9,357.2h-6.2M432.9,322.62h-6.2M432.9,288.05h-6.2M432.9,253.47h-6.2M432.9,218.9h-6.2M432.9,353.74h-3.8M432.9,350.28h-3.8M432.9,346.83h-3.8M432.9,343.37h-3.8M432.9,339.91h-3.8M432.9,336.45h-3.8M432.9,333h-3.8M432.9,329.54h-3.8M432.9,326.08h-3.8M432.9,319.17h-3.8M432.9,315.71h-3.8M432.9,312.25h-3.8M432.9,308.79h-3.8M432.9,305.34h-3.8M432.9,301.88h-3.8M432.9,298.42h-3.8M432.9,294.96h-3.8M432.9,291.51h-3.8M432.9,284.59h-3.8M432.9,281.13h-3.8M432.9,277.68h-3.8M432.9,274.22h-3.8M432.9,270.76h-3.8M432.9,267.3h-3.8M432.9,263.85h-3.8M432.9,260.39h-3.8M432.9,256.93h-3.8M432.9,250.02h-3.8M432.9,246.56h-3.8M432.9,243.1h-3.8M432.9,239.64h-3.8M432.9,236.19h-3.8M432.9,232.73h-3.8M432.9,229.27h-3.8M432.9,225.81h-3.8M432.9,222.36h-3.8" fill="none" stroke="#1c1c1c" stroke-width="1.7"/>
<text transform="translate(491.3 369.8) scale(1.12 1)" font-size="10.5" font-weight="bold" text-anchor="middle">-12</text>
<text transform="translate(549.7 369.8) scale(1.12 1)" font-size="10.5" font-weight="bold" text-anchor="middle">-10</text>
<text transform="translate(608.1 369.8) scale(1.12 1)" font-size="10.5" font-weight="bold" text-anchor="middle">-8</text>
<text transform="translate(666.5 369.8) scale(1.12 1)" font-size="10.5" font-weight="bold" text-anchor="middle">-6</text>
<text transform="translate(425.5 360.98) scale(1.12 1)" font-size="10.5" font-weight="bold" text-anchor="end">0</text>
<text transform="translate(425.5 326.4) scale(1.12 1)" font-size="10.5" font-weight="bold" text-anchor="end">500</text>
<text transform="translate(425.5 291.83) scale(1.12 1)" font-size="10.5" font-weight="bold" text-anchor="end">1000</text>
<text transform="translate(425.5 257.25) scale(1.12 1)" font-size="10.5" font-weight="bold" text-anchor="end">1500</text>
<text transform="translate(425.5 222.68) scale(1.12 1)" font-size="10.5" font-weight="bold" text-anchor="end">2000</text>
<text transform="translate(432.9 369.8) scale(1.12 1)" font-size="10.5" font-weight="bold" text-anchor="middle">-14</text>
<text transform="translate(372 222.5) scale(1.1 1)" font-size="13" font-weight="bold">(d)</text>
<text transform="translate(447.8 233) scale(1.14 1)" font-size="12.8" font-weight="bold">y = 325.7x + 4275</text>
<text transform="translate(447.8 248.9) scale(1.14 1)" font-size="12.8" font-weight="bold">R<tspan dy="-4.5" font-size="8.4">2</tspan><tspan dy="4.5"> = 0.992</tspan></text>
<text transform="translate(388.8 287.5) scale(1.1 1) rotate(-90)" font-size="12" font-weight="bold" text-anchor="middle"><tspan font-weight="normal">Δ</tspan><tspan font-style="italic">R</tspan><tspan dy="2.7" font-size="8.6">CT</tspan><tspan dy="-2.7"><tspan font-size="9"> </tspan>(k</tspan><tspan font-weight="normal">Ω</tspan>)</text>
<text transform="translate(549.6 388.4) scale(1.1 1)" font-size="12" font-weight="bold" text-anchor="middle">Log [IL-6] (g mL<tspan dy="-4.8" font-size="9">-1</tspan><tspan dy="4.8">)</tspan></text>
<path d="M488.04,552.32L636.39,459.69" stroke="#1c1c1c" stroke-width="1.05" fill="none"/>
<path d="M488.04,544.84V556.61M485.04,544.84h6M485.04,556.61h6M517.71,527.66V540.37M514.71,527.66h6M514.71,540.37h6M547.38,507.9V525.78M544.38,507.9h6M544.38,525.78h6M577.05,491.43V508.37M574.05,491.43h6M574.05,508.37h6M606.72,470.25V490.02M603.72,470.25h6M603.72,490.02h6M636.39,447.19V466.02M633.39,447.19h6M633.39,466.02h6" stroke="#1c1c1c" stroke-width="1.15" fill="none"/>
<path d="M484.64,550.72a3.4,3.4 0 1,0 6.8,0a3.4,3.4 0 1,0 -6.8,0zM514.31,534.02a3.4,3.4 0 1,0 6.8,0a3.4,3.4 0 1,0 -6.8,0zM543.98,516.84a3.4,3.4 0 1,0 6.8,0a3.4,3.4 0 1,0 -6.8,0zM573.65,499.9a3.4,3.4 0 1,0 6.8,0a3.4,3.4 0 1,0 -6.8,0zM603.32,480.13a3.4,3.4 0 1,0 6.8,0a3.4,3.4 0 1,0 -6.8,0zM632.99,456.6a3.4,3.4 0 1,0 6.8,0a3.4,3.4 0 1,0 -6.8,0z" fill="#1c1c1c"/>
<path d="M428.7,421.87V563.9H666.91M488.04,563.9v-6.2M547.38,563.9v-6.2M606.72,563.9v-6.2M666.06,563.9v-6.2M428.7,563.9h-6.2M428.7,516.84h-6.2M428.7,469.78h-6.2M428.7,422.72h-6.2M428.7,559.19h-3.8M428.7,554.49h-3.8M428.7,549.78h-3.8M428.7,545.08h-3.8M428.7,540.37h-3.8M428.7,535.66h-3.8M428.7,530.96h-3.8M428.7,526.25h-3.8M428.7,521.55h-3.8M428.7,512.13h-3.8M428.7,507.43h-3.8M428.7,502.72h-3.8M428.7,498.02h-3.8M428.7,493.31h-3.8M428.7,488.6h-3.8M428.7,483.9h-3.8M428.7,479.19h-3.8M428.7,474.49h-3.8M428.7,465.07h-3.8M428.7,460.37h-3.8M428.7,455.66h-3.8M428.7,450.96h-3.8M428.7,446.25h-3.8M428.7,441.54h-3.8M428.7,436.84h-3.8M428.7,432.13h-3.8M428.7,427.43h-3.8" fill="none" stroke="#1c1c1c" stroke-width="1.7"/>
<text transform="translate(488.04 577.2) scale(1.12 1)" font-size="10.5" font-weight="bold" text-anchor="middle">-16</text>
<text transform="translate(547.38 577.2) scale(1.12 1)" font-size="10.5" font-weight="bold" text-anchor="middle">-14</text>
<text transform="translate(606.72 577.2) scale(1.12 1)" font-size="10.5" font-weight="bold" text-anchor="middle">-12</text>
<text transform="translate(666.06 577.2) scale(1.12 1)" font-size="10.5" font-weight="bold" text-anchor="middle">-10</text>
<text transform="translate(420.5 567.68) scale(1.12 1)" font-size="10.5" font-weight="bold" text-anchor="end">0</text>
<text transform="translate(420.5 520.62) scale(1.12 1)" font-size="10.5" font-weight="bold" text-anchor="end">200</text>
<text transform="translate(420.5 473.56) scale(1.12 1)" font-size="10.5" font-weight="bold" text-anchor="end">400</text>
<text transform="translate(420.5 426.5) scale(1.12 1)" font-size="10.5" font-weight="bold" text-anchor="end">600</text>
<text transform="translate(428.7 577.2) scale(1.12 1)" font-size="10.5" font-weight="bold" text-anchor="middle">-18</text>
<text transform="translate(375.5 426.5) scale(1.1 1)" font-size="13" font-weight="bold">(f)</text>
<text transform="translate(443.6 437.8) scale(1.17 1)" font-size="12.8" font-weight="bold">y = 78.74x + 1309</text>
<text transform="translate(443.6 455.3) scale(1.17 1)" font-size="12.8" font-weight="bold">R<tspan dy="-4.5" font-size="8.4">2</tspan><tspan dy="4.5"> = 0.995</tspan></text>
<text transform="translate(389.8 493) scale(1.1 1) rotate(-90)" font-size="12" font-weight="bold" text-anchor="middle"><tspan font-weight="normal">Δ</tspan><tspan font-style="italic">R</tspan><tspan dy="2.7" font-size="8.6">CT</tspan><tspan dy="-2.7"><tspan font-size="9"> </tspan>(k</tspan><tspan font-weight="normal">Ω</tspan>)</text>
<text transform="translate(547.8 593) scale(1.1 1)" font-size="12" font-weight="bold" text-anchor="middle">Log [miR-155] (M)</text>
<path d="M52.7,230.45V361.7H274.03M52.7,361.7v-5.9M121.6,361.7v-5.9M190.5,361.7v-5.9M259.4,361.7v-5.9M59.59,361.7v-3.4M66.48,361.7v-3.4M73.37,361.7v-3.4M80.26,361.7v-3.4M87.15,361.7v-3.4M94.04,361.7v-3.4M100.93,361.7v-3.4M107.82,361.7v-3.4M114.71,361.7v-3.4M128.49,361.7v-3.4M135.38,361.7v-3.4M142.27,361.7v-3.4M149.16,361.7v-3.4M156.05,361.7v-3.4M162.94,361.7v-3.4M169.83,361.7v-3.4M176.72,361.7v-3.4M183.61,361.7v-3.4M197.39,361.7v-3.4M204.28,361.7v-3.4M211.17,361.7v-3.4M218.06,361.7v-3.4M224.95,361.7v-3.4M231.84,361.7v-3.4M238.73,361.7v-3.4M245.62,361.7v-3.4M252.51,361.7v-3.4M266.29,361.7v-3.4M273.18,361.7v-3.4M52.7,361.7h-5.9M52.7,329.1h-5.9M52.7,296.5h-5.9M52.7,263.9h-5.9M52.7,231.3h-5.9M52.7,358.44h-3.4M52.7,355.18h-3.4M52.7,351.92h-3.4M52.7,348.66h-3.4M52.7,345.4h-3.4M52.7,342.14h-3.4M52.7,338.88h-3.4M52.7,335.62h-3.4M52.7,332.36h-3.4M52.7,325.84h-3.4M52.7,322.58h-3.4M52.7,319.32h-3.4M52.7,316.06h-3.4M52.7,312.8h-3.4M52.7,309.54h-3.4M52.7,306.28h-3.4M52.7,303.02h-3.4M52.7,299.76h-3.4M52.7,293.24h-3.4M52.7,289.98h-3.4M52.7,286.72h-3.4M52.7,283.46h-3.4M52.7,280.2h-3.4M52.7,276.94h-3.4M52.7,273.68h-3.4M52.7,270.42h-3.4M52.7,267.16h-3.4M52.7,260.64h-3.4M52.7,257.38h-3.4M52.7,254.12h-3.4M52.7,250.86h-3.4M52.7,247.6h-3.4M52.7,244.34h-3.4M52.7,241.08h-3.4M52.7,237.82h-3.4M52.7,234.56h-3.4" fill="none" stroke="#1c1c1c" stroke-width="1.7"/>
<text transform="translate(52.7 373.3) scale(1.07 1)" font-size="10.5" font-weight="bold" text-anchor="middle">0</text>
<text transform="translate(121.6 373.3) scale(1.07 1)" font-size="10.5" font-weight="bold" text-anchor="middle">500</text>
<text transform="translate(190.5 373.3) scale(1.07 1)" font-size="10.5" font-weight="bold" text-anchor="middle">1000</text>
<text transform="translate(259.4 373.3) scale(1.07 1)" font-size="10.5" font-weight="bold" text-anchor="middle">1500</text>
<text transform="translate(45.5 365.48) scale(1.07 1)" font-size="10.5" font-weight="bold" text-anchor="end">0</text>
<text transform="translate(45.5 332.88) scale(1.07 1)" font-size="10.5" font-weight="bold" text-anchor="end">200</text>
<text transform="translate(45.5 300.28) scale(1.07 1)" font-size="10.5" font-weight="bold" text-anchor="end">400</text>
<text transform="translate(45.5 267.68) scale(1.07 1)" font-size="10.5" font-weight="bold" text-anchor="end">600</text>
<text transform="translate(45.5 235.08) scale(1.07 1)" font-size="10.5" font-weight="bold" text-anchor="end">800</text>
<text transform="translate(0.9 235) scale(1.1 1)" font-size="13" font-weight="bold">(c)</text>
<text transform="translate(18.8 296) rotate(-90)" font-size="10.9" font-weight="bold" text-anchor="middle">Z" (k<tspan font-weight="normal">Ω</tspan>)</text>
<text transform="translate(163 389.3) scale(1.08 1)" font-size="12" font-weight="bold" text-anchor="middle">Z' (k<tspan font-weight="normal">Ω</tspan>)</text>
<path d="M49.75,363h6.5l-3.25,-5.59zM50.13,360.85h6.5l-3.25,-5.59zM50.65,358.14h6.5l-3.25,-5.59zM51.32,355.04h6.5l-3.25,-5.59zM52.25,351.63h6.5l-3.25,-5.59zM53.49,347.95h6.5l-3.25,-5.59zM54.88,344h6.5l-3.25,-5.59zM56.22,339.72h6.5l-3.25,-5.59zM57.55,335.14h6.5l-3.25,-5.59zM59.14,330.36h6.5l-3.25,-5.59zM61.22,325.49h6.5l-3.25,-5.59zM63.68,320.53h6.5l-3.25,-5.59zM66.34,315.41h6.5l-3.25,-5.59zM69.41,310.29h6.5l-3.25,-5.59zM73.06,305.3h6.5l-3.25,-5.59zM77.05,300.34h6.5l-3.25,-5.59zM81.55,295.62h6.5l-3.25,-5.59zM86.4,291.03h6.5l-3.25,-5.59zM91.1,286.09h6.5l-3.25,-5.59zM95.71,280.93h6.5l-3.25,-5.59zM100.69,276h6.5l-3.25,-5.59zM106.21,271.56h6.5l-3.25,-5.59zM112.14,267.6h6.5l-3.25,-5.59zM118.38,264.08h6.5l-3.25,-5.59zM124.84,260.99h6.5l-3.25,-5.59zM131.48,258.3h6.5l-3.25,-5.59zM138.25,256.04h6.5l-3.25,-5.59zM145.11,254.2h6.5l-3.25,-5.59zM152.02,252.77h6.5l-3.25,-5.59zM158.94,251.73h6.5l-3.25,-5.59zM165.85,251.1h6.5l-3.25,-5.59zM172.7,250.94h6.5l-3.25,-5.59zM179.46,251.13h6.5l-3.25,-5.59zM186.1,251.69h6.5l-3.25,-5.59zM192.55,252.83h6.5l-3.25,-5.59zM198.73,254.56h6.5l-3.25,-5.59zM204.67,256.62h6.5l-3.25,-5.59zM210.41,258.78h6.5l-3.25,-5.59zM215.94,261.03h6.5l-3.25,-5.59zM221.23,263.37h6.5l-3.25,-5.59zM226.25,265.81h6.5l-3.25,-5.59zM231,268.26h6.5l-3.25,-5.59zM235.47,270.66h6.5l-3.25,-5.59zM239.55,272.9h6.5l-3.25,-5.59z" fill="#1c1c1c"/>
<path d="M50.6,357.5h5.4v5.4h-5.4zM51.03,355.57h5.4v5.4h-5.4zM51.55,353.31h5.4v5.4h-5.4zM52.14,350.84h5.4v5.4h-5.4zM52.81,348.23h5.4v5.4h-5.4zM53.58,345.49h5.4v5.4h-5.4zM54.46,342.64h5.4v5.4h-5.4zM55.44,339.7h5.4v5.4h-5.4zM56.49,336.67h5.4v5.4h-5.4zM57.6,333.56h5.4v5.4h-5.4zM58.77,330.36h5.4v5.4h-5.4zM60.05,327.12h5.4v5.4h-5.4zM61.47,323.84h5.4v5.4h-5.4zM63.05,320.55h5.4v5.4h-5.4zM64.77,317.25h5.4v5.4h-5.4zM66.64,313.96h5.4v5.4h-5.4zM68.64,310.67h5.4v5.4h-5.4zM70.75,307.38h5.4v5.4h-5.4zM72.95,304.09h5.4v5.4h-5.4zM75.27,300.82h5.4v5.4h-5.4zM77.74,297.61h5.4v5.4h-5.4zM80.35,294.46h5.4v5.4h-5.4zM83.09,291.38h5.4v5.4h-5.4zM86.1,288.52h5.4v5.4h-5.4zM89.56,286.19h5.4v5.4h-5.4zM93.29,284.26h5.4v5.4h-5.4zM97.05,282.35h5.4v5.4h-5.4zM100.68,280.18h5.4v5.4h-5.4zM104.25,277.9h5.4v5.4h-5.4zM107.89,275.73h5.4v5.4h-5.4zM111.71,273.9h5.4v5.4h-5.4zM115.7,272.5h5.4v5.4h-5.4zM119.78,271.39h5.4v5.4h-5.4zM123.89,270.45h5.4v5.4h-5.4zM128.01,269.58h5.4v5.4h-5.4zM132.14,268.84h5.4v5.4h-5.4zM136.29,268.29h5.4v5.4h-5.4zM140.45,267.98h5.4v5.4h-5.4zM144.6,267.95h5.4v5.4h-5.4zM148.72,268.18h5.4v5.4h-5.4zM152.8,268.67h5.4v5.4h-5.4zM156.81,269.42h5.4v5.4h-5.4zM160.75,270.36h5.4v5.4h-5.4zM164.62,271.45h5.4v5.4h-5.4zM168.44,272.61h5.4v5.4h-5.4zM172.2,273.84h5.4v5.4h-5.4zM175.89,275.14h5.4v5.4h-5.4zM179.52,276.5h5.4v5.4h-5.4zM183.07,277.92h5.4v5.4h-5.4zM186.55,279.38h5.4v5.4h-5.4zM189.96,280.85h5.4v5.4h-5.4zM193.3,282.3h5.4v5.4h-5.4zM196.58,283.7h5.4v5.4h-5.4zM199.77,285.04h5.4v5.4h-5.4zM202.8,286.3h5.4v5.4h-5.4z" fill="#1c1c1c"/>
<path d="M51.15,360.2l2.35,-2.35l2.35,2.35l-2.35,2.35zM51.44,358.99l2.35,-2.35l2.35,2.35l-2.35,2.35zM51.74,357.72l2.35,-2.35l2.35,2.35l-2.35,2.35zM52.07,356.37l2.35,-2.35l2.35,2.35l-2.35,2.35zM52.43,354.95l2.35,-2.35l2.35,2.35l-2.35,2.35zM52.82,353.45l2.35,-2.35l2.35,2.35l-2.35,2.35zM53.25,351.87l2.35,-2.35l2.35,2.35l-2.35,2.35zM53.73,350.21l2.35,-2.35l2.35,2.35l-2.35,2.35zM54.28,348.47l2.35,-2.35l2.35,2.35l-2.35,2.35zM54.89,346.64l2.35,-2.35l2.35,2.35l-2.35,2.35zM55.57,344.72l2.35,-2.35l2.35,2.35l-2.35,2.35zM56.31,342.71l2.35,-2.35l2.35,2.35l-2.35,2.35zM57.13,340.59l2.35,-2.35l2.35,2.35l-2.35,2.35zM58,338.38l2.35,-2.35l2.35,2.35l-2.35,2.35zM58.93,336.05l2.35,-2.35l2.35,2.35l-2.35,2.35zM59.93,333.6l2.35,-2.35l2.35,2.35l-2.35,2.35zM61.01,331.05l2.35,-2.35l2.35,2.35l-2.35,2.35zM62.2,328.4l2.35,-2.35l2.35,2.35l-2.35,2.35zM63.51,325.65l2.35,-2.35l2.35,2.35l-2.35,2.35zM65,322.84l2.35,-2.35l2.35,2.35l-2.35,2.35zM66.69,319.98l2.35,-2.35l2.35,2.35l-2.35,2.35zM68.63,317.11l2.35,-2.35l2.35,2.35l-2.35,2.35zM70.83,314.27l2.35,-2.35l2.35,2.35l-2.35,2.35zM73.28,311.46l2.35,-2.35l2.35,2.35l-2.35,2.35zM75.95,308.68l2.35,-2.35l2.35,2.35l-2.35,2.35zM78.86,305.98l2.35,-2.35l2.35,2.35l-2.35,2.35zM82.1,303.5l2.35,-2.35l2.35,2.35l-2.35,2.35zM85.67,301.34l2.35,-2.35l2.35,2.35l-2.35,2.35zM89.43,299.35l2.35,-2.35l2.35,2.35l-2.35,2.35zM93.32,297.46l2.35,-2.35l2.35,2.35l-2.35,2.35zM97.33,295.71l2.35,-2.35l2.35,2.35l-2.35,2.35zM101.42,294.05l2.35,-2.35l2.35,2.35l-2.35,2.35zM105.54,292.45l2.35,-2.35l2.35,2.35l-2.35,2.35zM109.68,290.9l2.35,-2.35l2.35,2.35l-2.35,2.35zM113.9,289.62l2.35,-2.35l2.35,2.35l-2.35,2.35zM118.17,288.68l2.35,-2.35l2.35,2.35l-2.35,2.35zM122.46,288.03l2.35,-2.35l2.35,2.35l-2.35,2.35zM126.73,287.61l2.35,-2.35l2.35,2.35l-2.35,2.35zM130.95,287.46l2.35,-2.35l2.35,2.35l-2.35,2.35zM135.1,287.62l2.35,-2.35l2.35,2.35l-2.35,2.35zM139.15,288.08l2.35,-2.35l2.35,2.35l-2.35,2.35zM143.07,288.77l2.35,-2.35l2.35,2.35l-2.35,2.35zM146.87,289.63l2.35,-2.35l2.35,2.35l-2.35,2.35zM150.53,290.6l2.35,-2.35l2.35,2.35l-2.35,2.35zM154.06,291.67l2.35,-2.35l2.35,2.35l-2.35,2.35zM157.45,292.83l2.35,-2.35l2.35,2.35l-2.35,2.35zM160.7,294.06l2.35,-2.35l2.35,2.35l-2.35,2.35zM163.81,295.35l2.35,-2.35l2.35,2.35l-2.35,2.35zM166.78,296.68l2.35,-2.35l2.35,2.35l-2.35,2.35zM169.63,298.03l2.35,-2.35l2.35,2.35l-2.35,2.35zM172.36,299.36l2.35,-2.35l2.35,2.35l-2.35,2.35zM174.99,300.67l2.35,-2.35l2.35,2.35l-2.35,2.35zM177.51,301.93l2.35,-2.35l2.35,2.35l-2.35,2.35zM179.95,303.15l2.35,-2.35l2.35,2.35l-2.35,2.35zM182.3,304.33l2.35,-2.35l2.35,2.35l-2.35,2.35zM184.56,305.46l2.35,-2.35l2.35,2.35l-2.35,2.35zM186.74,306.55l2.35,-2.35l2.35,2.35l-2.35,2.35zM188.83,307.59l2.35,-2.35l2.35,2.35l-2.35,2.35zM190.85,308.6l2.35,-2.35l2.35,2.35l-2.35,2.35z" fill="#1c1c1c"/>
<path d="M50.9,357.79h5.6l-2.8,4.82zM51.14,356.8h5.6l-2.8,4.82zM51.39,355.78h5.6l-2.8,4.82zM51.65,354.73h5.6l-2.8,4.82zM51.93,353.64h5.6l-2.8,4.82zM52.22,352.52h5.6l-2.8,4.82zM52.53,351.36h5.6l-2.8,4.82zM52.86,350.17h5.6l-2.8,4.82zM53.22,348.95h5.6l-2.8,4.82zM53.61,347.69h5.6l-2.8,4.82zM54.03,346.39h5.6l-2.8,4.82zM54.5,345.07h5.6l-2.8,4.82zM55,343.71h5.6l-2.8,4.82zM55.54,342.31h5.6l-2.8,4.82zM56.12,340.88h5.6l-2.8,4.82zM56.74,339.41h5.6l-2.8,4.82zM57.39,337.91h5.6l-2.8,4.82zM58.08,336.36h5.6l-2.8,4.82zM58.8,334.78h5.6l-2.8,4.82zM59.55,333.15h5.6l-2.8,4.82zM60.35,331.49h5.6l-2.8,4.82zM61.2,329.8h5.6l-2.8,4.82zM62.1,328.07h5.6l-2.8,4.82zM63.07,326.33h5.6l-2.8,4.82zM64.1,324.56h5.6l-2.8,4.82zM65.22,322.78h5.6l-2.8,4.82zM66.41,320.99h5.6l-2.8,4.82zM67.68,319.2h5.6l-2.8,4.82zM69.04,317.42h5.6l-2.8,4.82zM70.48,315.65h5.6l-2.8,4.82zM72.02,313.89h5.6l-2.8,4.82zM73.64,312.16h5.6l-2.8,4.82zM75.36,310.46h5.6l-2.8,4.82zM77.19,308.84h5.6l-2.8,4.82zM79.18,307.36h5.6l-2.8,4.82zM81.35,306.1h5.6l-2.8,4.82zM83.65,305.04h5.6l-2.8,4.82zM86.02,304.1h5.6l-2.8,4.82zM88.46,303.27h5.6l-2.8,4.82zM90.95,302.58h5.6l-2.8,4.82zM93.49,302.04h5.6l-2.8,4.82zM96.05,301.6h5.6l-2.8,4.82zM98.63,301.26h5.6l-2.8,4.82zM101.21,300.99h5.6l-2.8,4.82zM103.8,300.81h5.6l-2.8,4.82zM106.38,300.7h5.6l-2.8,4.82zM108.95,300.71h5.6l-2.8,4.82zM111.51,300.84h5.6l-2.8,4.82zM114.03,301.1h5.6l-2.8,4.82zM116.53,301.49h5.6l-2.8,4.82zM118.97,302h5.6l-2.8,4.82zM121.37,302.64h5.6l-2.8,4.82zM123.7,303.4h5.6l-2.8,4.82zM125.97,304.26h5.6l-2.8,4.82zM128.18,305.19h5.6l-2.8,4.82zM130.33,306.18h5.6l-2.8,4.82zM132.43,307.2h5.6l-2.8,4.82zM134.48,308.25h5.6l-2.8,4.82zM136.48,309.32h5.6l-2.8,4.82zM138.43,310.41h5.6l-2.8,4.82zM140.32,311.52h5.6l-2.8,4.82zM142.15,312.67h5.6l-2.8,4.82zM143.92,313.84h5.6l-2.8,4.82zM145.63,315.04h5.6l-2.8,4.82zM147.28,316.25h5.6l-2.8,4.82zM148.88,317.47h5.6l-2.8,4.82zM150.45,318.68h5.6l-2.8,4.82zM151.97,319.87h5.6l-2.8,4.82zM153.48,321.03h5.6l-2.8,4.82zM154.96,322.16h5.6l-2.8,4.82zM156.42,323.25h5.6l-2.8,4.82zM157.87,324.3h5.6l-2.8,4.82zM159.3,325.31h5.6l-2.8,4.82zM160.71,326.3h5.6l-2.8,4.82zM162.1,327.25h5.6l-2.8,4.82zM163.46,328.18h5.6l-2.8,4.82zM164.8,329.09h5.6l-2.8,4.82z" fill="#1c1c1c"/>
<path d="M51.2,362.52h5.4l-2.7,-4.64zM51.46,361.53h5.4l-2.7,-4.64zM51.73,360.51h5.4l-2.7,-4.64zM52.01,359.44h5.4l-2.7,-4.64zM52.3,358.34h5.4l-2.7,-4.64zM52.61,357.21h5.4l-2.7,-4.64zM52.94,356.03h5.4l-2.7,-4.64zM53.29,354.81h5.4l-2.7,-4.64zM53.66,353.56h5.4l-2.7,-4.64zM54.06,352.27h5.4l-2.7,-4.64zM54.49,350.93h5.4l-2.7,-4.64zM54.95,349.56h5.4l-2.7,-4.64zM55.45,348.15h5.4l-2.7,-4.64zM55.98,346.69h5.4l-2.7,-4.64zM56.55,345.2h5.4l-2.7,-4.64zM57.15,343.66h5.4l-2.7,-4.64zM57.79,342.08h5.4l-2.7,-4.64zM58.45,340.45h5.4l-2.7,-4.64zM59.16,338.79h5.4l-2.7,-4.64zM59.93,337.1h5.4l-2.7,-4.64zM60.8,335.4h5.4l-2.7,-4.64zM61.81,333.71h5.4l-2.7,-4.64zM62.99,332.08h5.4l-2.7,-4.64zM64.37,330.54h5.4l-2.7,-4.64zM65.9,329.1h5.4l-2.7,-4.64zM67.57,327.74h5.4l-2.7,-4.64zM69.34,326.43h5.4l-2.7,-4.64zM71.19,325.17h5.4l-2.7,-4.64zM73.09,323.92h5.4l-2.7,-4.64zM75.03,322.67h5.4l-2.7,-4.64zM76.99,321.4h5.4l-2.7,-4.64zM78.99,320.14h5.4l-2.7,-4.64zM81.07,318.98h5.4l-2.7,-4.64zM83.28,318.06h5.4l-2.7,-4.64zM85.6,317.42h5.4l-2.7,-4.64zM87.97,316.96h5.4l-2.7,-4.64zM90.36,316.63h5.4l-2.7,-4.64zM92.76,316.4h5.4l-2.7,-4.64zM95.16,316.25h5.4l-2.7,-4.64zM97.55,316.22h5.4l-2.7,-4.64zM99.94,316.31h5.4l-2.7,-4.64zM102.3,316.55h5.4l-2.7,-4.64zM104.62,316.94h5.4l-2.7,-4.64zM106.89,317.48h5.4l-2.7,-4.64zM109.1,318.15h5.4l-2.7,-4.64zM111.26,318.93h5.4l-2.7,-4.64zM113.36,319.78h5.4l-2.7,-4.64zM115.41,320.67h5.4l-2.7,-4.64zM117.42,321.57h5.4l-2.7,-4.64zM119.4,322.49h5.4l-2.7,-4.64zM121.34,323.41h5.4l-2.7,-4.64zM123.24,324.34h5.4l-2.7,-4.64zM125.09,325.28h5.4l-2.7,-4.64zM126.91,326.21h5.4l-2.7,-4.64zM128.7,327.13h5.4l-2.7,-4.64zM130.46,328.03h5.4l-2.7,-4.64zM132.19,328.89h5.4l-2.7,-4.64zM133.91,329.71h5.4l-2.7,-4.64zM135.62,330.47h5.4l-2.7,-4.64zM137.3,331.19h5.4l-2.7,-4.64zM138.97,331.87h5.4l-2.7,-4.64zM140.61,332.51h5.4l-2.7,-4.64zM142.22,333.12h5.4l-2.7,-4.64zM143.81,333.7h5.4l-2.7,-4.64zM145.37,334.27h5.4l-2.7,-4.64zM146.9,334.82h5.4l-2.7,-4.64z" fill="#1c1c1c"/>
<path d="M51.7,357.7h5v5h-5zM51.9,356.92h5v5h-5zM52.11,356.12h5v5h-5zM52.32,355.3h5v5h-5zM52.54,354.47h5v5h-5zM52.77,353.62h5v5h-5zM53,352.75h5v5h-5zM53.25,351.86h5v5h-5zM53.51,350.95h5v5h-5zM53.79,350.03h5v5h-5zM54.08,349.09h5v5h-5zM54.39,348.13h5v5h-5zM54.72,347.16h5v5h-5zM55.07,346.17h5v5h-5zM55.44,345.17h5v5h-5zM55.84,344.15h5v5h-5zM56.26,343.11h5v5h-5zM56.7,342.06h5v5h-5zM57.16,340.99h5v5h-5zM57.64,339.91h5v5h-5zM58.14,338.81h5v5h-5zM58.67,337.7h5v5h-5zM59.21,336.57h5v5h-5zM59.77,335.42h5v5h-5zM60.36,334.26h5v5h-5zM60.98,333.09h5v5h-5zM61.64,331.92h5v5h-5zM62.34,330.75h5v5h-5zM63.1,329.59h5v5h-5zM63.91,328.43h5v5h-5zM64.78,327.31h5v5h-5zM65.73,326.21h5v5h-5zM66.75,325.17h5v5h-5zM67.87,324.19h5v5h-5zM69.08,323.3h5v5h-5zM70.36,322.51h5v5h-5zM71.73,321.82h5v5h-5zM73.16,321.25h5v5h-5zM74.64,320.78h5v5h-5zM76.15,320.38h5v5h-5zM77.68,320.02h5v5h-5zM79.23,319.7h5v5h-5zM80.79,319.43h5v5h-5zM82.37,319.24h5v5h-5zM83.96,319.11h5v5h-5zM85.56,319.04h5v5h-5zM87.15,318.99h5v5h-5zM88.75,318.95h5v5h-5zM90.34,318.95h5v5h-5zM91.92,319.02h5v5h-5zM93.5,319.16h5v5h-5zM95.06,319.36h5v5h-5zM96.6,319.62h5v5h-5zM98.13,319.91h5v5h-5zM99.63,320.24h5v5h-5zM101.11,320.62h5v5h-5zM102.57,321.04h5v5h-5zM103.99,321.52h5v5h-5zM105.37,322.05h5v5h-5zM106.71,322.65h5v5h-5zM107.99,323.31h5v5h-5zM109.22,324.04h5v5h-5zM110.41,324.79h5v5h-5zM111.56,325.56h5v5h-5zM112.7,326.32h5v5h-5zM113.83,327.05h5v5h-5zM114.96,327.74h5v5h-5zM116.08,328.39h5v5h-5zM117.21,328.99h5v5h-5zM118.33,329.56h5v5h-5zM119.44,330.09h5v5h-5zM120.54,330.59h5v5h-5zM121.63,331.06h5v5h-5zM122.71,331.5h5v5h-5zM123.76,331.92h5v5h-5zM124.81,332.32h5v5h-5zM125.83,332.7h5v5h-5zM126.84,333.05h5v5h-5zM127.84,333.39h5v5h-5zM128.82,333.7h5v5h-5zM129.78,333.98h5v5h-5zM130.73,334.24h5v5h-5zM131.67,334.46h5v5h-5zM132.59,334.64h5v5h-5zM133.5,334.8h5v5h-5zM134.4,334.92h5v5h-5zM135.27,335.03h5v5h-5zM136.13,335.11h5v5h-5zM136.97,335.18h5v5h-5zM137.79,335.24h5v5h-5zM138.6,335.3h5v5h-5z" fill="#1c1c1c"/>
<path d="M52.2,360.2a2.3,2.3 0 1,0 4.6,0a2.3,2.3 0 1,0 -4.6,0zM52.36,359.51a2.3,2.3 0 1,0 4.6,0a2.3,2.3 0 1,0 -4.6,0zM52.53,358.8a2.3,2.3 0 1,0 4.6,0a2.3,2.3 0 1,0 -4.6,0zM52.7,358.08a2.3,2.3 0 1,0 4.6,0a2.3,2.3 0 1,0 -4.6,0zM52.87,357.35a2.3,2.3 0 1,0 4.6,0a2.3,2.3 0 1,0 -4.6,0zM53.05,356.6a2.3,2.3 0 1,0 4.6,0a2.3,2.3 0 1,0 -4.6,0zM53.23,355.84a2.3,2.3 0 1,0 4.6,0a2.3,2.3 0 1,0 -4.6,0zM53.43,355.06a2.3,2.3 0 1,0 4.6,0a2.3,2.3 0 1,0 -4.6,0zM53.62,354.27a2.3,2.3 0 1,0 4.6,0a2.3,2.3 0 1,0 -4.6,0zM53.83,353.46a2.3,2.3 0 1,0 4.6,0a2.3,2.3 0 1,0 -4.6,0zM54.05,352.64a2.3,2.3 0 1,0 4.6,0a2.3,2.3 0 1,0 -4.6,0zM54.28,351.8a2.3,2.3 0 1,0 4.6,0a2.3,2.3 0 1,0 -4.6,0zM54.51,350.95a2.3,2.3 0 1,0 4.6,0a2.3,2.3 0 1,0 -4.6,0zM54.76,350.09a2.3,2.3 0 1,0 4.6,0a2.3,2.3 0 1,0 -4.6,0zM55.03,349.22a2.3,2.3 0 1,0 4.6,0a2.3,2.3 0 1,0 -4.6,0zM55.32,348.33a2.3,2.3 0 1,0 4.6,0a2.3,2.3 0 1,0 -4.6,0zM55.64,347.44a2.3,2.3 0 1,0 4.6,0a2.3,2.3 0 1,0 -4.6,0zM55.98,346.54a2.3,2.3 0 1,0 4.6,0a2.3,2.3 0 1,0 -4.6,0zM56.37,345.63a2.3,2.3 0 1,0 4.6,0a2.3,2.3 0 1,0 -4.6,0zM56.8,344.73a2.3,2.3 0 1,0 4.6,0a2.3,2.3 0 1,0 -4.6,0zM57.28,343.84a2.3,2.3 0 1,0 4.6,0a2.3,2.3 0 1,0 -4.6,0zM57.81,342.96a2.3,2.3 0 1,0 4.6,0a2.3,2.3 0 1,0 -4.6,0zM58.4,342.1a2.3,2.3 0 1,0 4.6,0a2.3,2.3 0 1,0 -4.6,0zM59.05,341.26a2.3,2.3 0 1,0 4.6,0a2.3,2.3 0 1,0 -4.6,0zM59.75,340.45a2.3,2.3 0 1,0 4.6,0a2.3,2.3 0 1,0 -4.6,0zM60.51,339.66a2.3,2.3 0 1,0 4.6,0a2.3,2.3 0 1,0 -4.6,0zM61.32,338.92a2.3,2.3 0 1,0 4.6,0a2.3,2.3 0 1,0 -4.6,0zM62.19,338.22a2.3,2.3 0 1,0 4.6,0a2.3,2.3 0 1,0 -4.6,0zM63.11,337.56a2.3,2.3 0 1,0 4.6,0a2.3,2.3 0 1,0 -4.6,0zM64.07,336.95a2.3,2.3 0 1,0 4.6,0a2.3,2.3 0 1,0 -4.6,0zM65.06,336.37a2.3,2.3 0 1,0 4.6,0a2.3,2.3 0 1,0 -4.6,0zM66.08,335.82a2.3,2.3 0 1,0 4.6,0a2.3,2.3 0 1,0 -4.6,0zM67.13,335.29a2.3,2.3 0 1,0 4.6,0a2.3,2.3 0 1,0 -4.6,0zM68.18,334.77a2.3,2.3 0 1,0 4.6,0a2.3,2.3 0 1,0 -4.6,0zM69.26,334.27a2.3,2.3 0 1,0 4.6,0a2.3,2.3 0 1,0 -4.6,0zM70.36,333.81a2.3,2.3 0 1,0 4.6,0a2.3,2.3 0 1,0 -4.6,0zM71.49,333.41a2.3,2.3 0 1,0 4.6,0a2.3,2.3 0 1,0 -4.6,0zM72.64,333.09a2.3,2.3 0 1,0 4.6,0a2.3,2.3 0 1,0 -4.6,0zM73.82,332.86a2.3,2.3 0 1,0 4.6,0a2.3,2.3 0 1,0 -4.6,0zM75.02,332.69a2.3,2.3 0 1,0 4.6,0a2.3,2.3 0 1,0 -4.6,0zM76.22,332.57a2.3,2.3 0 1,0 4.6,0a2.3,2.3 0 1,0 -4.6,0zM77.42,332.48a2.3,2.3 0 1,0 4.6,0a2.3,2.3 0 1,0 -4.6,0zM78.62,332.4a2.3,2.3 0 1,0 4.6,0a2.3,2.3 0 1,0 -4.6,0zM79.82,332.37a2.3,2.3 0 1,0 4.6,0a2.3,2.3 0 1,0 -4.6,0zM81.02,332.41a2.3,2.3 0 1,0 4.6,0a2.3,2.3 0 1,0 -4.6,0zM82.2,332.53a2.3,2.3 0 1,0 4.6,0a2.3,2.3 0 1,0 -4.6,0zM83.37,332.75a2.3,2.3 0 1,0 4.6,0a2.3,2.3 0 1,0 -4.6,0zM84.5,333.06a2.3,2.3 0 1,0 4.6,0a2.3,2.3 0 1,0 -4.6,0zM85.61,333.45a2.3,2.3 0 1,0 4.6,0a2.3,2.3 0 1,0 -4.6,0zM86.68,333.9a2.3,2.3 0 1,0 4.6,0a2.3,2.3 0 1,0 -4.6,0zM87.71,334.4a2.3,2.3 0 1,0 4.6,0a2.3,2.3 0 1,0 -4.6,0zM88.71,334.95a2.3,2.3 0 1,0 4.6,0a2.3,2.3 0 1,0 -4.6,0zM89.68,335.54a2.3,2.3 0 1,0 4.6,0a2.3,2.3 0 1,0 -4.6,0zM90.61,336.15a2.3,2.3 0 1,0 4.6,0a2.3,2.3 0 1,0 -4.6,0zM91.51,336.79a2.3,2.3 0 1,0 4.6,0a2.3,2.3 0 1,0 -4.6,0zM92.38,337.44a2.3,2.3 0 1,0 4.6,0a2.3,2.3 0 1,0 -4.6,0zM93.24,338.09a2.3,2.3 0 1,0 4.6,0a2.3,2.3 0 1,0 -4.6,0zM94.07,338.75a2.3,2.3 0 1,0 4.6,0a2.3,2.3 0 1,0 -4.6,0zM94.88,339.41a2.3,2.3 0 1,0 4.6,0a2.3,2.3 0 1,0 -4.6,0zM95.67,340.06a2.3,2.3 0 1,0 4.6,0a2.3,2.3 0 1,0 -4.6,0zM96.46,340.7a2.3,2.3 0 1,0 4.6,0a2.3,2.3 0 1,0 -4.6,0zM97.23,341.33a2.3,2.3 0 1,0 4.6,0a2.3,2.3 0 1,0 -4.6,0zM98,341.95a2.3,2.3 0 1,0 4.6,0a2.3,2.3 0 1,0 -4.6,0zM98.75,342.55a2.3,2.3 0 1,0 4.6,0a2.3,2.3 0 1,0 -4.6,0zM99.49,343.14a2.3,2.3 0 1,0 4.6,0a2.3,2.3 0 1,0 -4.6,0zM100.22,343.72a2.3,2.3 0 1,0 4.6,0a2.3,2.3 0 1,0 -4.6,0zM100.94,344.29a2.3,2.3 0 1,0 4.6,0a2.3,2.3 0 1,0 -4.6,0zM101.65,344.84a2.3,2.3 0 1,0 4.6,0a2.3,2.3 0 1,0 -4.6,0zM102.35,345.38a2.3,2.3 0 1,0 4.6,0a2.3,2.3 0 1,0 -4.6,0zM103.03,345.91a2.3,2.3 0 1,0 4.6,0a2.3,2.3 0 1,0 -4.6,0zM103.7,346.43a2.3,2.3 0 1,0 4.6,0a2.3,2.3 0 1,0 -4.6,0zM104.35,346.95a2.3,2.3 0 1,0 4.6,0a2.3,2.3 0 1,0 -4.6,0zM104.99,347.46a2.3,2.3 0 1,0 4.6,0a2.3,2.3 0 1,0 -4.6,0zM105.61,347.96a2.3,2.3 0 1,0 4.6,0a2.3,2.3 0 1,0 -4.6,0zM106.22,348.46a2.3,2.3 0 1,0 4.6,0a2.3,2.3 0 1,0 -4.6,0zM106.8,348.96a2.3,2.3 0 1,0 4.6,0a2.3,2.3 0 1,0 -4.6,0zM107.37,349.45a2.3,2.3 0 1,0 4.6,0a2.3,2.3 0 1,0 -4.6,0zM107.93,349.94a2.3,2.3 0 1,0 4.6,0a2.3,2.3 0 1,0 -4.6,0zM108.47,350.43a2.3,2.3 0 1,0 4.6,0a2.3,2.3 0 1,0 -4.6,0zM109,350.9a2.3,2.3 0 1,0 4.6,0a2.3,2.3 0 1,0 -4.6,0z" fill="#1c1c1c"/>
<path d="M264.2,215.05h6.4l-3.2,-5.5z" fill="#1c1c1c"/>
<text transform="translate(284.3 216.3) scale(1.1 1)" font-size="11.2">10 ng mL<tspan dy="-4.6" font-size="7.8">-1</tspan></text>
<path d="M264.5,230.1h5.8v5.8h-5.8z" fill="#1c1c1c"/>
<text transform="translate(284.3 237) scale(1.1 1)" font-size="11.2">1 ng mL<tspan dy="-4.6" font-size="7.8">-1</tspan></text>
<path d="M265.1,254l2.3,-2.3l2.3,2.3l-2.3,2.3z" fill="#1c1c1c"/>
<text transform="translate(284.3 258) scale(1.1 1)" font-size="11.2">0.1 ng mL<tspan dy="-4.6" font-size="7.8">-1</tspan></text>
<path d="M265,273.24h4.8l-2.4,4.13z" fill="#1c1c1c"/>
<text transform="translate(284.3 279.3) scale(1.1 1)" font-size="11.2">10 pg mL<tspan dy="-4.6" font-size="7.8">-1</tspan></text>
<path d="M265,299.26h4.8l-2.4,-4.13z" fill="#1c1c1c"/>
<text transform="translate(284.3 301.2) scale(1.1 1)" font-size="11.2">1 pg mL<tspan dy="-4.6" font-size="7.8">-1</tspan></text>
<path d="M265.2,316h4.4v4.4h-4.4z" fill="#1c1c1c"/>
<text transform="translate(284.3 322.2) scale(1.1 1)" font-size="11.2">0.1 pg mL<tspan dy="-4.6" font-size="7.8">-1</tspan></text>
<path d="M265.4,341.6a2,2 0 1,0 4,0a2,2 0 1,0 -4,0z" fill="#1c1c1c"/>
<text transform="translate(284.3 345.6) scale(1.1 1)" font-size="11.2">0</text>
<path d="M55.3,424.85V564.4H289.6M55.3,564.4v-5.9M122,564.4v-5.9M188.7,564.4v-5.9M255.4,564.4v-5.9M61.97,564.4v-3.4M68.64,564.4v-3.4M75.31,564.4v-3.4M81.98,564.4v-3.4M88.65,564.4v-3.4M95.32,564.4v-3.4M101.99,564.4v-3.4M108.66,564.4v-3.4M115.33,564.4v-3.4M128.67,564.4v-3.4M135.34,564.4v-3.4M142.01,564.4v-3.4M148.68,564.4v-3.4M155.35,564.4v-3.4M162.02,564.4v-3.4M168.69,564.4v-3.4M175.36,564.4v-3.4M182.03,564.4v-3.4M195.37,564.4v-3.4M202.04,564.4v-3.4M208.71,564.4v-3.4M215.38,564.4v-3.4M222.05,564.4v-3.4M228.72,564.4v-3.4M235.39,564.4v-3.4M242.06,564.4v-3.4M248.73,564.4v-3.4M262.07,564.4v-3.4M268.74,564.4v-3.4M275.41,564.4v-3.4M282.08,564.4v-3.4M288.75,564.4v-3.4M55.3,564.4h-5.9M55.3,536.66h-5.9M55.3,508.92h-5.9M55.3,481.18h-5.9M55.3,453.44h-5.9M55.3,425.7h-5.9M55.3,561.63h-3.4M55.3,558.85h-3.4M55.3,556.08h-3.4M55.3,553.3h-3.4M55.3,550.53h-3.4M55.3,547.76h-3.4M55.3,544.98h-3.4M55.3,542.21h-3.4M55.3,539.43h-3.4M55.3,533.89h-3.4M55.3,531.11h-3.4M55.3,528.34h-3.4M55.3,525.56h-3.4M55.3,522.79h-3.4M55.3,520.02h-3.4M55.3,517.24h-3.4M55.3,514.47h-3.4M55.3,511.69h-3.4M55.3,506.15h-3.4M55.3,503.37h-3.4M55.3,500.6h-3.4M55.3,497.82h-3.4M55.3,495.05h-3.4M55.3,492.28h-3.4M55.3,489.5h-3.4M55.3,486.73h-3.4M55.3,483.95h-3.4M55.3,478.41h-3.4M55.3,475.63h-3.4M55.3,472.86h-3.4M55.3,470.08h-3.4M55.3,467.31h-3.4M55.3,464.54h-3.4M55.3,461.76h-3.4M55.3,458.99h-3.4M55.3,456.21h-3.4M55.3,450.67h-3.4M55.3,447.89h-3.4M55.3,445.12h-3.4M55.3,442.34h-3.4M55.3,439.57h-3.4M55.3,436.8h-3.4M55.3,434.02h-3.4M55.3,431.25h-3.4M55.3,428.47h-3.4" fill="none" stroke="#1c1c1c" stroke-width="1.7"/>
<text transform="translate(55.3 577) scale(1.07 1)" font-size="10.5" font-weight="bold" text-anchor="middle">0</text>
<text transform="translate(122 577) scale(1.07 1)" font-size="10.5" font-weight="bold" text-anchor="middle">200</text>
<text transform="translate(188.7 577) scale(1.07 1)" font-size="10.5" font-weight="bold" text-anchor="middle">400</text>
<text transform="translate(255.4 577) scale(1.07 1)" font-size="10.5" font-weight="bold" text-anchor="middle">600</text>
<text transform="translate(47.2 568.18) scale(1.07 1)" font-size="10.5" font-weight="bold" text-anchor="end">0</text>
<text transform="translate(47.2 540.44) scale(1.07 1)" font-size="10.5" font-weight="bold" text-anchor="end">50</text>
<text transform="translate(47.2 512.7) scale(1.07 1)" font-size="10.5" font-weight="bold" text-anchor="end">100</text>
<text transform="translate(47.2 484.96) scale(1.07 1)" font-size="10.5" font-weight="bold" text-anchor="end">150</text>
<text transform="translate(47.2 457.22) scale(1.07 1)" font-size="10.5" font-weight="bold" text-anchor="end">200</text>
<text transform="translate(47.2 429.48) scale(1.07 1)" font-size="10.5" font-weight="bold" text-anchor="end">250</text>
<text transform="translate(0.9 429.5) scale(1.1 1)" font-size="13" font-weight="bold">(e)</text>
<text transform="translate(18.8 495) rotate(-90)" font-size="10.9" font-weight="bold" text-anchor="middle">Z" (k<tspan font-weight="normal">Ω</tspan>)</text>
<text transform="translate(171.5 594.3) scale(1.08 1)" font-size="12" font-weight="bold" text-anchor="middle">Z' (k<tspan font-weight="normal">Ω</tspan>)</text>
<path d="M53.1,566.42h6.8l-3.4,-5.85zM53.39,564.91h6.8l-3.4,-5.85zM53.69,563.33h6.8l-3.4,-5.85zM54.01,561.68h6.8l-3.4,-5.85zM54.35,559.95h6.8l-3.4,-5.85zM54.71,558.15h6.8l-3.4,-5.85zM55.1,556.28h6.8l-3.4,-5.85zM55.51,554.32h6.8l-3.4,-5.85zM55.97,552.27h6.8l-3.4,-5.85zM56.47,550.15h6.8l-3.4,-5.85zM57.01,547.93h6.8l-3.4,-5.85zM57.6,545.63h6.8l-3.4,-5.85zM58.24,543.23h6.8l-3.4,-5.85zM58.94,540.73h6.8l-3.4,-5.85zM59.7,538.14h6.8l-3.4,-5.85zM60.53,535.45h6.8l-3.4,-5.85zM61.44,532.65h6.8l-3.4,-5.85zM62.44,529.76h6.8l-3.4,-5.85zM63.53,526.77h6.8l-3.4,-5.85zM64.71,523.68h6.8l-3.4,-5.85zM65.97,520.48h6.8l-3.4,-5.85zM67.3,517.17h6.8l-3.4,-5.85zM68.68,513.73h6.8l-3.4,-5.85zM70.08,510.15h6.8l-3.4,-5.85zM71.52,506.45h6.8l-3.4,-5.85zM73.02,502.62h6.8l-3.4,-5.85zM74.62,498.69h6.8l-3.4,-5.85zM76.38,494.68h6.8l-3.4,-5.85zM78.4,490.65h6.8l-3.4,-5.85zM80.73,486.65h6.8l-3.4,-5.85zM83.35,482.69h6.8l-3.4,-5.85zM86.2,478.75h6.8l-3.4,-5.85zM89.25,474.82h6.8l-3.4,-5.85zM92.45,470.9h6.8l-3.4,-5.85zM95.82,466.99h6.8l-3.4,-5.85zM99.34,463.13h6.8l-3.4,-5.85zM103.06,459.36h6.8l-3.4,-5.85zM107.08,455.82h6.8l-3.4,-5.85zM111.48,452.72h6.8l-3.4,-5.85zM116.23,450.13h6.8l-3.4,-5.85zM121.23,448.02h6.8l-3.4,-5.85zM126.38,446.33h6.8l-3.4,-5.85zM131.63,445.06h6.8l-3.4,-5.85zM136.95,444.2h6.8l-3.4,-5.85zM142.28,443.77h6.8l-3.4,-5.85zM147.58,443.78h6.8l-3.4,-5.85zM152.81,444.22h6.8l-3.4,-5.85zM157.92,445.09h6.8l-3.4,-5.85zM162.86,446.38h6.8l-3.4,-5.85zM167.6,448.06h6.8l-3.4,-5.85zM172.09,450.11h6.8l-3.4,-5.85zM176.29,452.54h6.8l-3.4,-5.85zM180.16,455.29h6.8l-3.4,-5.85zM183.76,458.24h6.8l-3.4,-5.85zM187.15,461.26h6.8l-3.4,-5.85zM190.42,464.24h6.8l-3.4,-5.85zM193.63,467.14h6.8l-3.4,-5.85zM196.77,469.94h6.8l-3.4,-5.85zM199.82,472.67h6.8l-3.4,-5.85zM202.76,475.34h6.8l-3.4,-5.85zM205.59,477.98h6.8l-3.4,-5.85zM208.29,480.58h6.8l-3.4,-5.85zM210.88,483.13h6.8l-3.4,-5.85zM213.36,485.63h6.8l-3.4,-5.85zM215.75,488.07h6.8l-3.4,-5.85zM218.06,490.44h6.8l-3.4,-5.85zM220.29,492.74h6.8l-3.4,-5.85zM222.45,494.96h6.8l-3.4,-5.85zM224.54,497.11h6.8l-3.4,-5.85zM226.56,499.2h6.8l-3.4,-5.85zM228.51,501.21h6.8l-3.4,-5.85zM230.4,503.16h6.8l-3.4,-5.85zM232.23,505.04h6.8l-3.4,-5.85zM233.99,506.86h6.8l-3.4,-5.85zM235.7,508.62h6.8l-3.4,-5.85z" fill="#1c1c1c"/>
<path d="M53.4,560.4h6.2v6.2h-6.2zM53.62,559.21h6.2v6.2h-6.2zM53.84,557.98h6.2v6.2h-6.2zM54.06,556.74h6.2v6.2h-6.2zM54.3,555.46h6.2v6.2h-6.2zM54.54,554.16h6.2v6.2h-6.2zM54.79,552.83h6.2v6.2h-6.2zM55.05,551.47h6.2v6.2h-6.2zM55.32,550.08h6.2v6.2h-6.2zM55.61,548.67h6.2v6.2h-6.2zM55.91,547.22h6.2v6.2h-6.2zM56.22,545.74h6.2v6.2h-6.2zM56.56,544.24h6.2v6.2h-6.2zM56.91,542.7h6.2v6.2h-6.2zM57.28,541.14h6.2v6.2h-6.2zM57.68,539.54h6.2v6.2h-6.2zM58.11,537.92h6.2v6.2h-6.2zM58.55,536.27h6.2v6.2h-6.2zM59.02,534.58h6.2v6.2h-6.2zM59.52,532.87h6.2v6.2h-6.2zM60.05,531.12h6.2v6.2h-6.2zM60.6,529.35h6.2v6.2h-6.2zM61.18,527.54h6.2v6.2h-6.2zM61.79,525.7h6.2v6.2h-6.2zM62.42,523.84h6.2v6.2h-6.2zM63.09,521.94h6.2v6.2h-6.2zM63.78,520.01h6.2v6.2h-6.2zM64.52,518.06h6.2v6.2h-6.2zM65.29,516.08h6.2v6.2h-6.2zM66.1,514.08h6.2v6.2h-6.2zM66.97,512.06h6.2v6.2h-6.2zM67.89,510.02h6.2v6.2h-6.2zM68.87,507.97h6.2v6.2h-6.2zM69.91,505.9h6.2v6.2h-6.2zM71.01,503.83h6.2v6.2h-6.2zM72.17,501.75h6.2v6.2h-6.2zM73.38,499.65h6.2v6.2h-6.2zM74.64,497.55h6.2v6.2h-6.2zM75.94,495.43h6.2v6.2h-6.2zM77.28,493.3h6.2v6.2h-6.2zM78.65,491.16h6.2v6.2h-6.2zM80.08,489.01h6.2v6.2h-6.2zM81.59,486.89h6.2v6.2h-6.2zM83.19,484.8h6.2v6.2h-6.2zM84.91,482.77h6.2v6.2h-6.2zM86.76,480.84h6.2v6.2h-6.2zM88.75,479.01h6.2v6.2h-6.2zM90.86,477.29h6.2v6.2h-6.2zM93.08,475.7h6.2v6.2h-6.2zM95.41,474.22h6.2v6.2h-6.2zM97.83,472.88h6.2v6.2h-6.2zM100.33,471.67h6.2v6.2h-6.2zM102.9,470.59h6.2v6.2h-6.2zM105.52,469.62h6.2v6.2h-6.2zM108.18,468.75h6.2v6.2h-6.2zM110.87,467.97h6.2v6.2h-6.2zM113.58,467.26h6.2v6.2h-6.2zM116.31,466.64h6.2v6.2h-6.2zM119.06,466.13h6.2v6.2h-6.2zM121.83,465.75h6.2v6.2h-6.2zM124.61,465.53h6.2v6.2h-6.2zM127.39,465.47h6.2v6.2h-6.2zM130.16,465.59h6.2v6.2h-6.2zM132.92,465.84h6.2v6.2h-6.2zM135.65,466.22h6.2v6.2h-6.2zM138.35,466.69h6.2v6.2h-6.2zM141.03,467.25h6.2v6.2h-6.2zM143.68,467.88h6.2v6.2h-6.2zM146.3,468.59h6.2v6.2h-6.2zM148.87,469.39h6.2v6.2h-6.2zM151.41,470.26h6.2v6.2h-6.2zM153.9,471.21h6.2v6.2h-6.2zM156.34,472.24h6.2v6.2h-6.2zM158.72,473.37h6.2v6.2h-6.2zM161.03,474.58h6.2v6.2h-6.2zM163.27,475.89h6.2v6.2h-6.2zM165.43,477.29h6.2v6.2h-6.2zM167.5,478.78h6.2v6.2h-6.2zM169.5,480.35h6.2v6.2h-6.2zM171.41,481.98h6.2v6.2h-6.2zM173.26,483.65h6.2v6.2h-6.2zM175.05,485.36h6.2v6.2h-6.2zM176.78,487.09h6.2v6.2h-6.2zM178.46,488.83h6.2v6.2h-6.2zM180.11,490.59h6.2v6.2h-6.2zM181.72,492.34h6.2v6.2h-6.2zM183.31,494.08h6.2v6.2h-6.2zM184.88,495.81h6.2v6.2h-6.2zM186.44,497.51h6.2v6.2h-6.2zM188,499.19h6.2v6.2h-6.2zM189.56,500.83h6.2v6.2h-6.2zM191.13,502.43h6.2v6.2h-6.2zM192.7,503.99h6.2v6.2h-6.2zM194.28,505.51h6.2v6.2h-6.2zM195.87,506.99h6.2v6.2h-6.2zM197.45,508.44h6.2v6.2h-6.2zM199.04,509.86h6.2v6.2h-6.2zM200.61,511.25h6.2v6.2h-6.2zM202.18,512.62h6.2v6.2h-6.2zM203.73,513.96h6.2v6.2h-6.2zM205.27,515.29h6.2v6.2h-6.2zM206.8,516.6h6.2v6.2h-6.2z" fill="#1c1c1c"/>
<path d="M54,563.5l2.5,-2.5l2.5,2.5l-2.5,2.5zM54.22,562.29l2.5,-2.5l2.5,2.5l-2.5,2.5zM54.46,561.04l2.5,-2.5l2.5,2.5l-2.5,2.5zM54.7,559.75l2.5,-2.5l2.5,2.5l-2.5,2.5zM54.95,558.4l2.5,-2.5l2.5,2.5l-2.5,2.5zM55.22,557.01l2.5,-2.5l2.5,2.5l-2.5,2.5zM55.5,555.56l2.5,-2.5l2.5,2.5l-2.5,2.5zM55.81,554.06l2.5,-2.5l2.5,2.5l-2.5,2.5zM56.13,552.51l2.5,-2.5l2.5,2.5l-2.5,2.5zM56.48,550.91l2.5,-2.5l2.5,2.5l-2.5,2.5zM56.85,549.25l2.5,-2.5l2.5,2.5l-2.5,2.5zM57.26,547.54l2.5,-2.5l2.5,2.5l-2.5,2.5zM57.7,545.76l2.5,-2.5l2.5,2.5l-2.5,2.5zM58.19,543.93l2.5,-2.5l2.5,2.5l-2.5,2.5zM58.72,542.05l2.5,-2.5l2.5,2.5l-2.5,2.5zM59.29,540.1l2.5,-2.5l2.5,2.5l-2.5,2.5zM59.92,538.1l2.5,-2.5l2.5,2.5l-2.5,2.5zM60.6,536.04l2.5,-2.5l2.5,2.5l-2.5,2.5zM61.32,533.91l2.5,-2.5l2.5,2.5l-2.5,2.5zM62.1,531.73l2.5,-2.5l2.5,2.5l-2.5,2.5zM62.93,529.48l2.5,-2.5l2.5,2.5l-2.5,2.5zM63.82,527.18l2.5,-2.5l2.5,2.5l-2.5,2.5zM64.76,524.81l2.5,-2.5l2.5,2.5l-2.5,2.5zM65.76,522.38l2.5,-2.5l2.5,2.5l-2.5,2.5zM66.82,519.89l2.5,-2.5l2.5,2.5l-2.5,2.5zM67.95,517.35l2.5,-2.5l2.5,2.5l-2.5,2.5zM69.15,514.76l2.5,-2.5l2.5,2.5l-2.5,2.5zM70.44,512.13l2.5,-2.5l2.5,2.5l-2.5,2.5zM71.81,509.45l2.5,-2.5l2.5,2.5l-2.5,2.5zM73.27,506.74l2.5,-2.5l2.5,2.5l-2.5,2.5zM74.82,504l2.5,-2.5l2.5,2.5l-2.5,2.5zM76.47,501.24l2.5,-2.5l2.5,2.5l-2.5,2.5zM78.2,498.46l2.5,-2.5l2.5,2.5l-2.5,2.5zM80.04,495.68l2.5,-2.5l2.5,2.5l-2.5,2.5zM82.01,492.92l2.5,-2.5l2.5,2.5l-2.5,2.5zM84.15,490.23l2.5,-2.5l2.5,2.5l-2.5,2.5zM86.52,487.67l2.5,-2.5l2.5,2.5l-2.5,2.5zM89.14,485.32l2.5,-2.5l2.5,2.5l-2.5,2.5zM91.98,483.19l2.5,-2.5l2.5,2.5l-2.5,2.5zM95.01,481.28l2.5,-2.5l2.5,2.5l-2.5,2.5zM98.19,479.6l2.5,-2.5l2.5,2.5l-2.5,2.5zM101.49,478.14l2.5,-2.5l2.5,2.5l-2.5,2.5zM104.9,476.93l2.5,-2.5l2.5,2.5l-2.5,2.5zM108.39,476.02l2.5,-2.5l2.5,2.5l-2.5,2.5zM111.94,475.45l2.5,-2.5l2.5,2.5l-2.5,2.5zM115.53,475.28l2.5,-2.5l2.5,2.5l-2.5,2.5zM119.09,475.5l2.5,-2.5l2.5,2.5l-2.5,2.5zM122.6,476.04l2.5,-2.5l2.5,2.5l-2.5,2.5zM126.02,476.86l2.5,-2.5l2.5,2.5l-2.5,2.5zM129.34,477.9l2.5,-2.5l2.5,2.5l-2.5,2.5zM132.56,479.16l2.5,-2.5l2.5,2.5l-2.5,2.5zM135.63,480.62l2.5,-2.5l2.5,2.5l-2.5,2.5zM138.56,482.27l2.5,-2.5l2.5,2.5l-2.5,2.5zM141.33,484.09l2.5,-2.5l2.5,2.5l-2.5,2.5zM143.96,486.03l2.5,-2.5l2.5,2.5l-2.5,2.5zM146.45,488.05l2.5,-2.5l2.5,2.5l-2.5,2.5zM148.85,490.1l2.5,-2.5l2.5,2.5l-2.5,2.5zM151.15,492.16l2.5,-2.5l2.5,2.5l-2.5,2.5zM153.36,494.24l2.5,-2.5l2.5,2.5l-2.5,2.5zM155.47,496.33l2.5,-2.5l2.5,2.5l-2.5,2.5zM157.45,498.46l2.5,-2.5l2.5,2.5l-2.5,2.5zM159.3,500.62l2.5,-2.5l2.5,2.5l-2.5,2.5zM161.01,502.81l2.5,-2.5l2.5,2.5l-2.5,2.5zM162.61,505.01l2.5,-2.5l2.5,2.5l-2.5,2.5zM164.12,507.19l2.5,-2.5l2.5,2.5l-2.5,2.5zM165.57,509.33l2.5,-2.5l2.5,2.5l-2.5,2.5zM166.99,511.42l2.5,-2.5l2.5,2.5l-2.5,2.5zM168.4,513.44l2.5,-2.5l2.5,2.5l-2.5,2.5zM169.81,515.38l2.5,-2.5l2.5,2.5l-2.5,2.5zM171.24,517.23l2.5,-2.5l2.5,2.5l-2.5,2.5zM172.69,518.98l2.5,-2.5l2.5,2.5l-2.5,2.5zM174.15,520.64l2.5,-2.5l2.5,2.5l-2.5,2.5zM175.61,522.23l2.5,-2.5l2.5,2.5l-2.5,2.5zM177.07,523.74l2.5,-2.5l2.5,2.5l-2.5,2.5zM178.5,525.2l2.5,-2.5l2.5,2.5l-2.5,2.5zM179.92,526.59l2.5,-2.5l2.5,2.5l-2.5,2.5zM181.31,527.94l2.5,-2.5l2.5,2.5l-2.5,2.5zM182.67,529.24l2.5,-2.5l2.5,2.5l-2.5,2.5zM184,530.5l2.5,-2.5l2.5,2.5l-2.5,2.5z" fill="#1c1c1c"/>
<path d="M53.6,561.01h5.8l-2.9,4.99zM53.84,559.72h5.8l-2.9,4.99zM54.09,558.39h5.8l-2.9,4.99zM54.35,557.04h5.8l-2.9,4.99zM54.62,555.65h5.8l-2.9,4.99zM54.91,554.22h5.8l-2.9,4.99zM55.21,552.76h5.8l-2.9,4.99zM55.52,551.26h5.8l-2.9,4.99zM55.86,549.72h5.8l-2.9,4.99zM56.22,548.15h5.8l-2.9,4.99zM56.61,546.55h5.8l-2.9,4.99zM57.03,544.91h5.8l-2.9,4.99zM57.49,543.23h5.8l-2.9,4.99zM57.99,541.52h5.8l-2.9,4.99zM58.53,539.78h5.8l-2.9,4.99zM59.12,538.01h5.8l-2.9,4.99zM59.75,536.2h5.8l-2.9,4.99zM60.42,534.36h5.8l-2.9,4.99zM61.13,532.49h5.8l-2.9,4.99zM61.89,530.59h5.8l-2.9,4.99zM62.69,528.65h5.8l-2.9,4.99zM63.53,526.68h5.8l-2.9,4.99zM64.4,524.67h5.8l-2.9,4.99zM65.32,522.64h5.8l-2.9,4.99zM66.26,520.57h5.8l-2.9,4.99zM67.25,518.47h5.8l-2.9,4.99zM68.26,516.33h5.8l-2.9,4.99zM69.31,514.16h5.8l-2.9,4.99zM70.38,511.96h5.8l-2.9,4.99zM71.47,509.73h5.8l-2.9,4.99zM72.61,507.48h5.8l-2.9,4.99zM73.81,505.21h5.8l-2.9,4.99zM75.09,502.96h5.8l-2.9,4.99zM76.48,500.73h5.8l-2.9,4.99zM78,498.55h5.8l-2.9,4.99zM79.66,496.44h5.8l-2.9,4.99zM81.46,494.42h5.8l-2.9,4.99zM83.42,492.52h5.8l-2.9,4.99zM85.54,490.78h5.8l-2.9,4.99zM87.83,489.23h5.8l-2.9,4.99zM90.27,487.91h5.8l-2.9,4.99zM92.84,486.85h5.8l-2.9,4.99zM95.5,486.02h5.8l-2.9,4.99zM98.22,485.43h5.8l-2.9,4.99zM100.99,485.07h5.8l-2.9,4.99zM103.77,484.94h5.8l-2.9,4.99zM106.54,485.04h5.8l-2.9,4.99zM109.29,485.35h5.8l-2.9,4.99zM111.99,485.89h5.8l-2.9,4.99zM114.61,486.66h5.8l-2.9,4.99zM117.15,487.63h5.8l-2.9,4.99zM119.59,488.8h5.8l-2.9,4.99zM121.92,490.12h5.8l-2.9,4.99zM124.15,491.56h5.8l-2.9,4.99zM126.3,493.08h5.8l-2.9,4.99zM128.36,494.65h5.8l-2.9,4.99zM130.36,496.27h5.8l-2.9,4.99zM132.29,497.92h5.8l-2.9,4.99zM134.15,499.6h5.8l-2.9,4.99zM135.93,501.32h5.8l-2.9,4.99zM137.64,503.05h5.8l-2.9,4.99zM139.28,504.8h5.8l-2.9,4.99zM140.85,506.57h5.8l-2.9,4.99zM142.35,508.35h5.8l-2.9,4.99zM143.78,510.13h5.8l-2.9,4.99zM145.14,511.92h5.8l-2.9,4.99zM146.44,513.7h5.8l-2.9,4.99zM147.69,515.48h5.8l-2.9,4.99zM148.87,517.26h5.8l-2.9,4.99zM150,519.02h5.8l-2.9,4.99zM151.08,520.76h5.8l-2.9,4.99zM152.15,522.46h5.8l-2.9,4.99zM153.21,524.13h5.8l-2.9,4.99zM154.27,525.75h5.8l-2.9,4.99zM155.35,527.3h5.8l-2.9,4.99zM156.46,528.8h5.8l-2.9,4.99zM157.6,530.22h5.8l-2.9,4.99zM158.76,531.57h5.8l-2.9,4.99zM159.94,532.87h5.8l-2.9,4.99zM161.12,534.11h5.8l-2.9,4.99zM162.29,535.31h5.8l-2.9,4.99zM163.46,536.47h5.8l-2.9,4.99zM164.6,537.61h5.8l-2.9,4.99z" fill="#1c1c1c"/>
<path d="M53.7,565.91h5.6l-2.8,-4.82zM53.96,564.62h5.6l-2.8,-4.82zM54.24,563.3h5.6l-2.8,-4.82zM54.52,561.95h5.6l-2.8,-4.82zM54.81,560.55h5.6l-2.8,-4.82zM55.13,559.12h5.6l-2.8,-4.82zM55.45,557.65h5.6l-2.8,-4.82zM55.81,556.13h5.6l-2.8,-4.82zM56.18,554.59h5.6l-2.8,-4.82zM56.58,553h5.6l-2.8,-4.82zM57.02,551.37h5.6l-2.8,-4.82zM57.49,549.71h5.6l-2.8,-4.82zM58.01,548.01h5.6l-2.8,-4.82zM58.57,546.28h5.6l-2.8,-4.82zM59.19,544.52h5.6l-2.8,-4.82zM59.86,542.72h5.6l-2.8,-4.82zM60.59,540.9h5.6l-2.8,-4.82zM61.38,539.05h5.6l-2.8,-4.82zM62.24,537.18h5.6l-2.8,-4.82zM63.17,535.29h5.6l-2.8,-4.82zM64.16,533.39h5.6l-2.8,-4.82zM65.23,531.47h5.6l-2.8,-4.82zM66.38,529.55h5.6l-2.8,-4.82zM67.61,527.63h5.6l-2.8,-4.82zM68.91,525.71h5.6l-2.8,-4.82zM70.3,523.8h5.6l-2.8,-4.82zM71.76,521.9h5.6l-2.8,-4.82zM73.31,520.03h5.6l-2.8,-4.82zM74.94,518.18h5.6l-2.8,-4.82zM76.64,516.37h5.6l-2.8,-4.82zM78.43,514.6h5.6l-2.8,-4.82zM80.31,512.9h5.6l-2.8,-4.82zM82.3,511.3h5.6l-2.8,-4.82zM84.41,509.85h5.6l-2.8,-4.82zM86.65,508.58h5.6l-2.8,-4.82zM89.02,507.54h5.6l-2.8,-4.82zM91.47,506.73h5.6l-2.8,-4.82zM93.99,506.17h5.6l-2.8,-4.82zM96.55,505.86h5.6l-2.8,-4.82zM99.11,505.82h5.6l-2.8,-4.82zM101.65,506.05h5.6l-2.8,-4.82zM104.15,506.51h5.6l-2.8,-4.82zM106.57,507.2h5.6l-2.8,-4.82zM108.89,508.09h5.6l-2.8,-4.82zM111.11,509.17h5.6l-2.8,-4.82zM113.21,510.41h5.6l-2.8,-4.82zM115.19,511.78h5.6l-2.8,-4.82zM117.07,513.23h5.6l-2.8,-4.82zM118.85,514.74h5.6l-2.8,-4.82zM120.55,516.28h5.6l-2.8,-4.82zM122.17,517.85h5.6l-2.8,-4.82zM123.71,519.44h5.6l-2.8,-4.82zM125.18,521.04h5.6l-2.8,-4.82zM126.58,522.65h5.6l-2.8,-4.82zM127.9,524.27h5.6l-2.8,-4.82zM129.15,525.88h5.6l-2.8,-4.82zM130.34,527.49h5.6l-2.8,-4.82zM131.46,529.09h5.6l-2.8,-4.82zM132.55,530.66h5.6l-2.8,-4.82zM133.6,532.2h5.6l-2.8,-4.82zM134.63,533.7h5.6l-2.8,-4.82zM135.65,535.15h5.6l-2.8,-4.82zM136.66,536.55h5.6l-2.8,-4.82zM137.68,537.9h5.6l-2.8,-4.82zM138.71,539.19h5.6l-2.8,-4.82zM139.77,540.39h5.6l-2.8,-4.82zM140.88,541.49h5.6l-2.8,-4.82zM142.04,542.48h5.6l-2.8,-4.82zM143.25,543.34h5.6l-2.8,-4.82zM144.48,544.1h5.6l-2.8,-4.82zM145.7,544.81h5.6l-2.8,-4.82z" fill="#1c1c1c"/>
<path d="M54,561h5v5h-5zM54.18,560.21h5v5h-5zM54.37,559.41h5v5h-5zM54.56,558.6h5v5h-5zM54.76,557.77h5v5h-5zM54.96,556.93h5v5h-5zM55.16,556.08h5v5h-5zM55.37,555.21h5v5h-5zM55.59,554.33h5v5h-5zM55.81,553.44h5v5h-5zM56.04,552.53h5v5h-5zM56.28,551.61h5v5h-5zM56.53,550.67h5v5h-5zM56.79,549.73h5v5h-5zM57.05,548.76h5v5h-5zM57.33,547.79h5v5h-5zM57.62,546.8h5v5h-5zM57.92,545.8h5v5h-5zM58.24,544.79h5v5h-5zM58.57,543.77h5v5h-5zM58.92,542.74h5v5h-5zM59.28,541.69h5v5h-5zM59.67,540.64h5v5h-5zM60.07,539.57h5v5h-5zM60.49,538.5h5v5h-5zM60.94,537.42h5v5h-5zM61.41,536.33h5v5h-5zM61.9,535.24h5v5h-5zM62.42,534.14h5v5h-5zM62.96,533.04h5v5h-5zM63.53,531.94h5v5h-5zM64.13,530.83h5v5h-5zM64.76,529.73h5v5h-5zM65.42,528.63h5v5h-5zM66.11,527.54h5v5h-5zM66.83,526.45h5v5h-5zM67.6,525.38h5v5h-5zM68.41,524.33h5v5h-5zM69.26,523.29h5v5h-5zM70.16,522.29h5v5h-5zM71.12,521.33h5v5h-5zM72.13,520.41h5v5h-5zM73.2,519.55h5v5h-5zM74.32,518.75h5v5h-5zM75.49,518.01h5v5h-5zM76.71,517.34h5v5h-5zM77.97,516.74h5v5h-5zM79.26,516.21h5v5h-5zM80.59,515.75h5v5h-5zM81.94,515.38h5v5h-5zM83.31,515.08h5v5h-5zM84.7,514.86h5v5h-5zM86.09,514.72h5v5h-5zM87.49,514.65h5v5h-5zM88.89,514.66h5v5h-5zM90.28,514.74h5v5h-5zM91.67,514.88h5v5h-5zM93.04,515.09h5v5h-5zM94.39,515.35h5v5h-5zM95.73,515.68h5v5h-5zM97.04,516.06h5v5h-5zM98.32,516.5h5v5h-5zM99.58,516.99h5v5h-5zM100.8,517.54h5v5h-5zM101.99,518.13h5v5h-5zM103.14,518.77h5v5h-5zM104.25,519.46h5v5h-5zM105.32,520.19h5v5h-5zM106.35,520.95h5v5h-5zM107.35,521.73h5v5h-5zM108.31,522.54h5v5h-5zM109.23,523.37h5v5h-5zM110.12,524.22h5v5h-5zM110.98,525.08h5v5h-5zM111.81,525.94h5v5h-5zM112.61,526.81h5v5h-5zM113.39,527.68h5v5h-5zM114.15,528.55h5v5h-5zM114.89,529.41h5v5h-5zM115.63,530.26h5v5h-5zM116.35,531.1h5v5h-5zM117.06,531.93h5v5h-5zM117.77,532.74h5v5h-5zM118.47,533.53h5v5h-5zM119.17,534.3h5v5h-5zM119.88,535.05h5v5h-5zM120.58,535.78h5v5h-5zM121.29,536.48h5v5h-5zM122.01,537.15h5v5h-5zM122.72,537.8h5v5h-5zM123.45,538.41h5v5h-5zM124.18,539h5v5h-5zM124.92,539.55h5v5h-5zM125.67,540.06h5v5h-5zM126.44,540.51h5v5h-5zM127.23,540.9h5v5h-5zM128.03,541.21h5v5h-5zM128.85,541.43h5v5h-5zM129.67,541.57h5v5h-5zM130.49,541.65h5v5h-5zM131.3,541.7h5v5h-5z" fill="#1c1c1c"/>
<path d="M54.2,563.5a2.3,2.3 0 1,0 4.6,0a2.3,2.3 0 1,0 -4.6,0zM54.3,562.8a2.3,2.3 0 1,0 4.6,0a2.3,2.3 0 1,0 -4.6,0zM54.4,562.1a2.3,2.3 0 1,0 4.6,0a2.3,2.3 0 1,0 -4.6,0zM54.5,561.38a2.3,2.3 0 1,0 4.6,0a2.3,2.3 0 1,0 -4.6,0zM54.61,560.65a2.3,2.3 0 1,0 4.6,0a2.3,2.3 0 1,0 -4.6,0zM54.71,559.9a2.3,2.3 0 1,0 4.6,0a2.3,2.3 0 1,0 -4.6,0zM54.83,559.15a2.3,2.3 0 1,0 4.6,0a2.3,2.3 0 1,0 -4.6,0zM54.94,558.38a2.3,2.3 0 1,0 4.6,0a2.3,2.3 0 1,0 -4.6,0zM55.06,557.6a2.3,2.3 0 1,0 4.6,0a2.3,2.3 0 1,0 -4.6,0zM55.18,556.81a2.3,2.3 0 1,0 4.6,0a2.3,2.3 0 1,0 -4.6,0zM55.31,556.01a2.3,2.3 0 1,0 4.6,0a2.3,2.3 0 1,0 -4.6,0zM55.44,555.19a2.3,2.3 0 1,0 4.6,0a2.3,2.3 0 1,0 -4.6,0zM55.58,554.37a2.3,2.3 0 1,0 4.6,0a2.3,2.3 0 1,0 -4.6,0zM55.73,553.53a2.3,2.3 0 1,0 4.6,0a2.3,2.3 0 1,0 -4.6,0zM55.88,552.67a2.3,2.3 0 1,0 4.6,0a2.3,2.3 0 1,0 -4.6,0zM56.05,551.81a2.3,2.3 0 1,0 4.6,0a2.3,2.3 0 1,0 -4.6,0zM56.22,550.93a2.3,2.3 0 1,0 4.6,0a2.3,2.3 0 1,0 -4.6,0zM56.4,550.05a2.3,2.3 0 1,0 4.6,0a2.3,2.3 0 1,0 -4.6,0zM56.59,549.15a2.3,2.3 0 1,0 4.6,0a2.3,2.3 0 1,0 -4.6,0zM56.79,548.23a2.3,2.3 0 1,0 4.6,0a2.3,2.3 0 1,0 -4.6,0zM57,547.31a2.3,2.3 0 1,0 4.6,0a2.3,2.3 0 1,0 -4.6,0zM57.23,546.38a2.3,2.3 0 1,0 4.6,0a2.3,2.3 0 1,0 -4.6,0zM57.46,545.44a2.3,2.3 0 1,0 4.6,0a2.3,2.3 0 1,0 -4.6,0zM57.72,544.48a2.3,2.3 0 1,0 4.6,0a2.3,2.3 0 1,0 -4.6,0zM57.99,543.52a2.3,2.3 0 1,0 4.6,0a2.3,2.3 0 1,0 -4.6,0zM58.29,542.56a2.3,2.3 0 1,0 4.6,0a2.3,2.3 0 1,0 -4.6,0zM58.61,541.58a2.3,2.3 0 1,0 4.6,0a2.3,2.3 0 1,0 -4.6,0zM58.97,540.61a2.3,2.3 0 1,0 4.6,0a2.3,2.3 0 1,0 -4.6,0zM59.36,539.64a2.3,2.3 0 1,0 4.6,0a2.3,2.3 0 1,0 -4.6,0zM59.8,538.67a2.3,2.3 0 1,0 4.6,0a2.3,2.3 0 1,0 -4.6,0zM60.29,537.72a2.3,2.3 0 1,0 4.6,0a2.3,2.3 0 1,0 -4.6,0zM60.83,536.78a2.3,2.3 0 1,0 4.6,0a2.3,2.3 0 1,0 -4.6,0zM61.44,535.86a2.3,2.3 0 1,0 4.6,0a2.3,2.3 0 1,0 -4.6,0zM62.09,534.97a2.3,2.3 0 1,0 4.6,0a2.3,2.3 0 1,0 -4.6,0zM62.8,534.11a2.3,2.3 0 1,0 4.6,0a2.3,2.3 0 1,0 -4.6,0zM63.56,533.28a2.3,2.3 0 1,0 4.6,0a2.3,2.3 0 1,0 -4.6,0zM64.35,532.47a2.3,2.3 0 1,0 4.6,0a2.3,2.3 0 1,0 -4.6,0zM65.19,531.69a2.3,2.3 0 1,0 4.6,0a2.3,2.3 0 1,0 -4.6,0zM66.07,530.95a2.3,2.3 0 1,0 4.6,0a2.3,2.3 0 1,0 -4.6,0zM66.98,530.23a2.3,2.3 0 1,0 4.6,0a2.3,2.3 0 1,0 -4.6,0zM67.93,529.56a2.3,2.3 0 1,0 4.6,0a2.3,2.3 0 1,0 -4.6,0zM68.92,528.92a2.3,2.3 0 1,0 4.6,0a2.3,2.3 0 1,0 -4.6,0zM69.94,528.33a2.3,2.3 0 1,0 4.6,0a2.3,2.3 0 1,0 -4.6,0zM70.99,527.8a2.3,2.3 0 1,0 4.6,0a2.3,2.3 0 1,0 -4.6,0zM72.08,527.32a2.3,2.3 0 1,0 4.6,0a2.3,2.3 0 1,0 -4.6,0zM73.19,526.9a2.3,2.3 0 1,0 4.6,0a2.3,2.3 0 1,0 -4.6,0zM74.33,526.55a2.3,2.3 0 1,0 4.6,0a2.3,2.3 0 1,0 -4.6,0zM75.49,526.27a2.3,2.3 0 1,0 4.6,0a2.3,2.3 0 1,0 -4.6,0zM76.67,526.06a2.3,2.3 0 1,0 4.6,0a2.3,2.3 0 1,0 -4.6,0zM77.86,525.93a2.3,2.3 0 1,0 4.6,0a2.3,2.3 0 1,0 -4.6,0zM79.05,525.89a2.3,2.3 0 1,0 4.6,0a2.3,2.3 0 1,0 -4.6,0zM80.24,525.93a2.3,2.3 0 1,0 4.6,0a2.3,2.3 0 1,0 -4.6,0zM81.43,526.06a2.3,2.3 0 1,0 4.6,0a2.3,2.3 0 1,0 -4.6,0zM82.6,526.28a2.3,2.3 0 1,0 4.6,0a2.3,2.3 0 1,0 -4.6,0zM83.74,526.58a2.3,2.3 0 1,0 4.6,0a2.3,2.3 0 1,0 -4.6,0zM84.86,526.96a2.3,2.3 0 1,0 4.6,0a2.3,2.3 0 1,0 -4.6,0zM85.95,527.4a2.3,2.3 0 1,0 4.6,0a2.3,2.3 0 1,0 -4.6,0zM87.01,527.9a2.3,2.3 0 1,0 4.6,0a2.3,2.3 0 1,0 -4.6,0zM88.04,528.45a2.3,2.3 0 1,0 4.6,0a2.3,2.3 0 1,0 -4.6,0zM89.04,529.05a2.3,2.3 0 1,0 4.6,0a2.3,2.3 0 1,0 -4.6,0zM90,529.68a2.3,2.3 0 1,0 4.6,0a2.3,2.3 0 1,0 -4.6,0zM90.93,530.34a2.3,2.3 0 1,0 4.6,0a2.3,2.3 0 1,0 -4.6,0zM91.83,531.03a2.3,2.3 0 1,0 4.6,0a2.3,2.3 0 1,0 -4.6,0zM92.7,531.75a2.3,2.3 0 1,0 4.6,0a2.3,2.3 0 1,0 -4.6,0zM93.54,532.48a2.3,2.3 0 1,0 4.6,0a2.3,2.3 0 1,0 -4.6,0zM94.35,533.23a2.3,2.3 0 1,0 4.6,0a2.3,2.3 0 1,0 -4.6,0zM95.14,534a2.3,2.3 0 1,0 4.6,0a2.3,2.3 0 1,0 -4.6,0zM95.9,534.77a2.3,2.3 0 1,0 4.6,0a2.3,2.3 0 1,0 -4.6,0zM96.64,535.54a2.3,2.3 0 1,0 4.6,0a2.3,2.3 0 1,0 -4.6,0zM97.36,536.32a2.3,2.3 0 1,0 4.6,0a2.3,2.3 0 1,0 -4.6,0zM98.06,537.1a2.3,2.3 0 1,0 4.6,0a2.3,2.3 0 1,0 -4.6,0zM98.75,537.88a2.3,2.3 0 1,0 4.6,0a2.3,2.3 0 1,0 -4.6,0zM99.41,538.66a2.3,2.3 0 1,0 4.6,0a2.3,2.3 0 1,0 -4.6,0zM100.07,539.43a2.3,2.3 0 1,0 4.6,0a2.3,2.3 0 1,0 -4.6,0zM100.71,540.2a2.3,2.3 0 1,0 4.6,0a2.3,2.3 0 1,0 -4.6,0zM101.33,540.96a2.3,2.3 0 1,0 4.6,0a2.3,2.3 0 1,0 -4.6,0zM101.95,541.72a2.3,2.3 0 1,0 4.6,0a2.3,2.3 0 1,0 -4.6,0zM102.55,542.46a2.3,2.3 0 1,0 4.6,0a2.3,2.3 0 1,0 -4.6,0zM103.15,543.2a2.3,2.3 0 1,0 4.6,0a2.3,2.3 0 1,0 -4.6,0zM103.74,543.91a2.3,2.3 0 1,0 4.6,0a2.3,2.3 0 1,0 -4.6,0zM104.35,544.61a2.3,2.3 0 1,0 4.6,0a2.3,2.3 0 1,0 -4.6,0zM104.96,545.27a2.3,2.3 0 1,0 4.6,0a2.3,2.3 0 1,0 -4.6,0zM105.6,545.9a2.3,2.3 0 1,0 4.6,0a2.3,2.3 0 1,0 -4.6,0zM106.26,546.47a2.3,2.3 0 1,0 4.6,0a2.3,2.3 0 1,0 -4.6,0zM106.95,547a2.3,2.3 0 1,0 4.6,0a2.3,2.3 0 1,0 -4.6,0zM107.67,547.46a2.3,2.3 0 1,0 4.6,0a2.3,2.3 0 1,0 -4.6,0zM108.4,547.86a2.3,2.3 0 1,0 4.6,0a2.3,2.3 0 1,0 -4.6,0zM109.16,548.2a2.3,2.3 0 1,0 4.6,0a2.3,2.3 0 1,0 -4.6,0zM109.93,548.47a2.3,2.3 0 1,0 4.6,0a2.3,2.3 0 1,0 -4.6,0zM110.7,548.68a2.3,2.3 0 1,0 4.6,0a2.3,2.3 0 1,0 -4.6,0zM111.47,548.82a2.3,2.3 0 1,0 4.6,0a2.3,2.3 0 1,0 -4.6,0zM112.24,548.9a2.3,2.3 0 1,0 4.6,0a2.3,2.3 0 1,0 -4.6,0zM113.01,548.91a2.3,2.3 0 1,0 4.6,0a2.3,2.3 0 1,0 -4.6,0zM113.76,548.86a2.3,2.3 0 1,0 4.6,0a2.3,2.3 0 1,0 -4.6,0zM114.49,548.78a2.3,2.3 0 1,0 4.6,0a2.3,2.3 0 1,0 -4.6,0zM115.21,548.67a2.3,2.3 0 1,0 4.6,0a2.3,2.3 0 1,0 -4.6,0zM115.91,548.54a2.3,2.3 0 1,0 4.6,0a2.3,2.3 0 1,0 -4.6,0zM116.6,548.4a2.3,2.3 0 1,0 4.6,0a2.3,2.3 0 1,0 -4.6,0z" fill="#1c1c1c"/>
<path d="M269.4,431.05h6.4l-3.2,-5.5z" fill="#1c1c1c"/>
<text transform="translate(290.7 432.2) scale(1.12 1)" font-size="11.2">10 pM</text>
<path d="M269.7,443.8h5.8v5.8h-5.8z" fill="#1c1c1c"/>
<text transform="translate(290.7 450.6) scale(1.12 1)" font-size="11.2">1 pM</text>
<path d="M270.3,465.1l2.3,-2.3l2.3,2.3l-2.3,2.3z" fill="#1c1c1c"/>
<text transform="translate(290.7 469) scale(1.12 1)" font-size="11.2">0.1 pM</text>
<path d="M270.2,482.04h4.8l-2.4,4.13z" fill="#1c1c1c"/>
<text transform="translate(290.7 488) scale(1.12 1)" font-size="11.2">10 fM</text>
<path d="M270.2,504.86h4.8l-2.4,-4.13z" fill="#1c1c1c"/>
<text transform="translate(290.7 506.7) scale(1.12 1)" font-size="11.2">1 fM</text>
<path d="M270.4,519h4.4v4.4h-4.4z" fill="#1c1c1c"/>
<text transform="translate(290.7 525.1) scale(1.12 1)" font-size="11.2">0.1 fM</text>
<path d="M270.6,539.6a2,2 0 1,0 4,0a2,2 0 1,0 -4,0z" fill="#1c1c1c"/>
<text transform="translate(290.7 543.5) scale(1.12 1)" font-size="11.2">0</text>
<path d="M75.2,707.54V703.7M73.4,703.7h3.6" stroke="#1c1c1c" stroke-width="1.1" fill="none"/>
<rect x="72.8" y="708.39" width="4.8" height="46.16" fill="#1c1c1c" stroke="#1c1c1c" stroke-width="1.7"/>
<path d="M84.9,732.88V727.08M83.1,727.08h3.6" stroke="#1c1c1c" stroke-width="1.1" fill="none"/>
<rect x="82.5" y="733.73" width="4.8" height="20.82" fill="#969696" stroke="#1c1c1c" stroke-width="1.7"/>
<path d="M94.6,751.91V751.4M92.8,751.4h3.6" stroke="#1c1c1c" stroke-width="1.1" fill="none"/>
<rect x="92.2" y="752.76" width="4.8" height="1.79" fill="#fff" stroke="#1c1c1c" stroke-width="1.7"/>
<path d="M111.6,749.35V747.81M109.8,747.81h3.6" stroke="#1c1c1c" stroke-width="1.1" fill="none"/>
<rect x="109.2" y="750.2" width="4.8" height="4.35" fill="#1c1c1c" stroke="#1c1c1c" stroke-width="1.7"/>
<path d="M121.3,639.87V632.28M119.5,632.28h3.6" stroke="#1c1c1c" stroke-width="1.1" fill="none"/>
<rect x="118.9" y="640.72" width="4.8" height="113.83" fill="#969696" stroke="#1c1c1c" stroke-width="1.7"/>
<path d="M131,751.31V750.63M129.2,750.63h3.6" stroke="#1c1c1c" stroke-width="1.1" fill="none"/>
<rect x="128.6" y="752.16" width="4.8" height="2.39" fill="#fff" stroke="#1c1c1c" stroke-width="1.7"/>
<path d="M148,749.86V748.67M146.2,748.67h3.6" stroke="#1c1c1c" stroke-width="1.1" fill="none"/>
<rect x="145.6" y="750.71" width="4.8" height="3.84" fill="#1c1c1c" stroke="#1c1c1c" stroke-width="1.7"/>
<path d="M157.7,750.2V748.32M155.9,748.32h3.6" stroke="#1c1c1c" stroke-width="1.1" fill="none"/>
<rect x="155.3" y="751.05" width="4.8" height="3.5" fill="#969696" stroke="#1c1c1c" stroke-width="1.7"/>
<path d="M167.4,731.6V729.72M165.6,729.72h3.6" stroke="#1c1c1c" stroke-width="1.1" fill="none"/>
<rect x="165" y="732.45" width="4.8" height="22.1" fill="#fff" stroke="#1c1c1c" stroke-width="1.7"/>
<path d="M184.4,750.12V748.24M182.6,748.24h3.6" stroke="#1c1c1c" stroke-width="1.1" fill="none"/>
<rect x="182" y="750.97" width="4.8" height="3.58" fill="#1c1c1c" stroke="#1c1c1c" stroke-width="1.7"/>
<path d="M194.1,750.12V747.9M192.3,747.9h3.6" stroke="#1c1c1c" stroke-width="1.1" fill="none"/>
<rect x="191.7" y="750.97" width="4.8" height="3.58" fill="#969696" stroke="#1c1c1c" stroke-width="1.7"/>
<path d="M203.8,750.12V748.24M202,748.24h3.6" stroke="#1c1c1c" stroke-width="1.1" fill="none"/>
<rect x="201.4" y="750.97" width="4.8" height="3.58" fill="#fff" stroke="#1c1c1c" stroke-width="1.7"/>
<path d="M220.8,751.65V750.97M219,750.97h3.6" stroke="#1c1c1c" stroke-width="1.1" fill="none"/>
<rect x="218.4" y="752.5" width="4.8" height="2.05" fill="#1c1c1c" stroke="#1c1c1c" stroke-width="1.7"/>
<path d="M230.5,751.65V750.97M228.7,750.97h3.6" stroke="#1c1c1c" stroke-width="1.1" fill="none"/>
<rect x="228.1" y="752.5" width="4.8" height="2.05" fill="#969696" stroke="#1c1c1c" stroke-width="1.7"/>
<path d="M240.2,752.16V751.65M238.4,751.65h3.6" stroke="#1c1c1c" stroke-width="1.1" fill="none"/>
<rect x="237.8" y="753.01" width="4.8" height="1.54" fill="#fff" stroke="#1c1c1c" stroke-width="1.7"/>
<path d="M257.2,751.99V751.48M255.4,751.48h3.6" stroke="#1c1c1c" stroke-width="1.1" fill="none"/>
<rect x="254.8" y="752.84" width="4.8" height="1.71" fill="#1c1c1c" stroke="#1c1c1c" stroke-width="1.7"/>
<path d="M266.9,752.33V751.82M265.1,751.82h3.6" stroke="#1c1c1c" stroke-width="1.1" fill="none"/>
<rect x="264.5" y="753.18" width="4.8" height="1.37" fill="#969696" stroke="#1c1c1c" stroke-width="1.7"/>
<path d="M276.6,752.51V751.99M274.8,751.99h3.6" stroke="#1c1c1c" stroke-width="1.1" fill="none"/>
<rect x="273.35" y="751.91" width="6.5" height="1.79" fill="#1c1c1c"/>
<path d="M68.4,624.85V753.7H284.5M84.9,753.7v6.3M121.3,753.7v6.3M157.7,753.7v6.3M194.1,753.7v6.3M230.5,753.7v6.3M266.9,753.7v6.3M68.4,753.7h-6.3M68.4,711.04h-6.3M68.4,668.37h-6.3M68.4,625.71h-6.3M68.4,749.43h-3.7M68.4,745.17h-3.7M68.4,740.9h-3.7M68.4,736.63h-3.7M68.4,732.37h-3.7M68.4,728.1h-3.7M68.4,723.83h-3.7M68.4,719.57h-3.7M68.4,715.3h-3.7M68.4,706.77h-3.7M68.4,702.5h-3.7M68.4,698.24h-3.7M68.4,693.97h-3.7M68.4,689.7h-3.7M68.4,685.44h-3.7M68.4,681.17h-3.7M68.4,676.9h-3.7M68.4,672.64h-3.7M68.4,664.1h-3.7M68.4,659.84h-3.7M68.4,655.57h-3.7M68.4,651.3h-3.7M68.4,647.04h-3.7M68.4,642.77h-3.7M68.4,638.5h-3.7M68.4,634.24h-3.7M68.4,629.97h-3.7" fill="none" stroke="#1c1c1c" stroke-width="1.7"/>
<text transform="translate(60.3 757.63) scale(1.07 1)" font-size="9.8" font-weight="bold" text-anchor="end">0</text>
<text transform="translate(60.3 714.96) scale(1.07 1)" font-size="9.8" font-weight="bold" text-anchor="end">500</text>
<text transform="translate(60.3 672.3) scale(1.07 1)" font-size="9.8" font-weight="bold" text-anchor="end">1000</text>
<text transform="translate(60.3 629.63) scale(1.07 1)" font-size="9.8" font-weight="bold" text-anchor="end">1500</text>
<text transform="translate(88.5 769.3) scale(1.22 1) rotate(-45)" font-size="9.2" font-weight="bold" text-anchor="end">TNF-a</text>
<text transform="translate(124.9 769.3) scale(1.22 1) rotate(-45)" font-size="9.2" font-weight="bold" text-anchor="end">IL-6</text>
<text transform="translate(161.3 769.3) scale(1.22 1) rotate(-45)" font-size="9.2" font-weight="bold" text-anchor="end">miR-155</text>
<text transform="translate(197.7 769.3) scale(1.22 1) rotate(-45)" font-size="9.2" font-weight="bold" text-anchor="end">miR-21</text>
<text transform="translate(234.1 769.3) scale(1.22 1) rotate(-45)" font-size="9.2" font-weight="bold" text-anchor="end">Ascorbic acid</text>
<text transform="translate(270.5 769.3) scale(1.22 1) rotate(-45)" font-size="9.2" font-weight="bold" text-anchor="end">Dopamine</text>
<text transform="translate(9.6 629.5) scale(1.1 1)" font-size="13" font-weight="bold">(g)</text>
<text transform="translate(28.6 690.2) scale(1.1 1) rotate(-90)" font-size="11.4" font-weight="bold" text-anchor="middle"><tspan font-weight="normal">Δ</tspan><tspan font-style="italic">R</tspan><tspan dy="2.7" font-size="8.6">CT</tspan><tspan dy="-2.7"><tspan font-size="9"> </tspan>(k</tspan><tspan font-weight="normal">Ω</tspan>)</text>
<rect x="181.5" y="625.7" width="13.3" height="3.6" fill="#1c1c1c" stroke="#1c1c1c" stroke-width="2"/>
<text transform="translate(204.9 631.4) scale(1.02 1)" font-size="11.6">TNF-a aptamer</text>
<rect x="181.5" y="642.9" width="13.3" height="3.6" fill="#969696" stroke="#1c1c1c" stroke-width="2"/>
<text transform="translate(204.9 648.6) scale(1.02 1)" font-size="11.6">IL-6 aptamer</text>
<rect x="181.5" y="660.1" width="13.3" height="3.6" fill="#fff" stroke="#1c1c1c" stroke-width="2"/>
<text transform="translate(204.9 665.8) scale(1.02 1)" font-size="11.6">miR-155 aptamer</text>
<path d="M436.6,734.71V731.43M434.8,731.43h3.6" stroke="#1c1c1c" stroke-width="1.1" fill="none"/>
<rect x="434.55" y="735.56" width="4.1" height="39.29" fill="#1c1c1c" stroke="#1c1c1c" stroke-width="1.7"/>
<path d="M445.8,683.33V675.23M444,675.23h3.6" stroke="#1c1c1c" stroke-width="1.1" fill="none"/>
<rect x="443.75" y="684.18" width="4.1" height="90.67" fill="#969696" stroke="#1c1c1c" stroke-width="1.7"/>
<path d="M455,749.43V746.91M453.2,746.91h3.6" stroke="#1c1c1c" stroke-width="1.1" fill="none"/>
<rect x="452.95" y="750.28" width="4.1" height="24.57" fill="#fff" stroke="#1c1c1c" stroke-width="1.7"/>
<path d="M470.02,734.71V730.61M468.22,730.61h3.6" stroke="#1c1c1c" stroke-width="1.1" fill="none"/>
<rect x="467.97" y="735.56" width="4.1" height="39.29" fill="#1c1c1c" stroke="#1c1c1c" stroke-width="1.7"/>
<path d="M479.22,683.33V679.06M477.42,679.06h3.6" stroke="#1c1c1c" stroke-width="1.1" fill="none"/>
<rect x="477.17" y="684.18" width="4.1" height="90.67" fill="#969696" stroke="#1c1c1c" stroke-width="1.7"/>
<path d="M488.42,749.43V746.15M486.62,746.15h3.6" stroke="#1c1c1c" stroke-width="1.1" fill="none"/>
<rect x="486.37" y="750.28" width="4.1" height="24.57" fill="#fff" stroke="#1c1c1c" stroke-width="1.7"/>
<path d="M503.44,735.26V733.07M501.64,733.07h3.6" stroke="#1c1c1c" stroke-width="1.1" fill="none"/>
<rect x="501.39" y="736.11" width="4.1" height="38.74" fill="#1c1c1c" stroke="#1c1c1c" stroke-width="1.7"/>
<path d="M512.64,684.1V679.17M510.84,679.17h3.6" stroke="#1c1c1c" stroke-width="1.1" fill="none"/>
<rect x="510.59" y="684.95" width="4.1" height="89.9" fill="#969696" stroke="#1c1c1c" stroke-width="1.7"/>
<path d="M521.84,749.43V743.69M520.04,743.69h3.6" stroke="#1c1c1c" stroke-width="1.1" fill="none"/>
<rect x="519.79" y="750.28" width="4.1" height="24.57" fill="#fff" stroke="#1c1c1c" stroke-width="1.7"/>
<path d="M536.86,735.53V734M535.06,734h3.6" stroke="#1c1c1c" stroke-width="1.1" fill="none"/>
<rect x="534.81" y="736.38" width="4.1" height="38.47" fill="#1c1c1c" stroke="#1c1c1c" stroke-width="1.7"/>
<path d="M546.06,684.81V677.2M544.26,677.2h3.6" stroke="#1c1c1c" stroke-width="1.1" fill="none"/>
<rect x="544.01" y="685.66" width="4.1" height="89.19" fill="#969696" stroke="#1c1c1c" stroke-width="1.7"/>
<path d="M555.26,750.47V745.66M553.46,745.66h3.6" stroke="#1c1c1c" stroke-width="1.1" fill="none"/>
<rect x="553.21" y="751.32" width="4.1" height="23.53" fill="#fff" stroke="#1c1c1c" stroke-width="1.7"/>
<path d="M570.28,735.26V730.44M568.48,730.44h3.6" stroke="#1c1c1c" stroke-width="1.1" fill="none"/>
<rect x="568.23" y="736.11" width="4.1" height="38.74" fill="#1c1c1c" stroke="#1c1c1c" stroke-width="1.7"/>
<path d="M579.48,685.35V678.51M577.68,678.51h3.6" stroke="#1c1c1c" stroke-width="1.1" fill="none"/>
<rect x="577.43" y="686.2" width="4.1" height="88.65" fill="#969696" stroke="#1c1c1c" stroke-width="1.7"/>
<path d="M588.68,751.51V746.2M586.88,746.2h3.6" stroke="#1c1c1c" stroke-width="1.1" fill="none"/>
<rect x="586.63" y="752.36" width="4.1" height="22.49" fill="#fff" stroke="#1c1c1c" stroke-width="1.7"/>
<path d="M603.7,735.26V733.51M601.9,733.51h3.6" stroke="#1c1c1c" stroke-width="1.1" fill="none"/>
<rect x="601.65" y="736.11" width="4.1" height="38.74" fill="#1c1c1c" stroke="#1c1c1c" stroke-width="1.7"/>
<path d="M612.9,685.85V679.01M611.1,679.01h3.6" stroke="#1c1c1c" stroke-width="1.1" fill="none"/>
<rect x="610.85" y="686.7" width="4.1" height="88.15" fill="#969696" stroke="#1c1c1c" stroke-width="1.7"/>
<path d="M622.1,751.73V749.21M620.3,749.21h3.6" stroke="#1c1c1c" stroke-width="1.1" fill="none"/>
<rect x="620.05" y="752.58" width="4.1" height="22.27" fill="#fff" stroke="#1c1c1c" stroke-width="1.7"/>
<path d="M637.12,736.02V730.99M635.32,730.99h3.6" stroke="#1c1c1c" stroke-width="1.1" fill="none"/>
<rect x="635.07" y="736.87" width="4.1" height="37.98" fill="#1c1c1c" stroke="#1c1c1c" stroke-width="1.7"/>
<path d="M646.32,686.61V681.58M644.52,681.58h3.6" stroke="#1c1c1c" stroke-width="1.1" fill="none"/>
<rect x="644.27" y="687.46" width="4.1" height="87.39" fill="#969696" stroke="#1c1c1c" stroke-width="1.7"/>
<path d="M655.52,752.5V750.47M653.72,750.47h3.6" stroke="#1c1c1c" stroke-width="1.1" fill="none"/>
<rect x="653.47" y="753.35" width="4.1" height="21.5" fill="#fff" stroke="#1c1c1c" stroke-width="1.7"/>
<path d="M431.6,636.35V774H663M445.8,774v6.3M479.22,774v6.3M512.64,774v6.3M546.06,774v6.3M579.48,774v6.3M612.9,774v6.3M646.32,774v6.3M431.6,774h-6.3M431.6,746.64h-6.3M431.6,719.28h-6.3M431.6,691.92h-6.3M431.6,664.56h-6.3M431.6,637.2h-6.3M431.6,771.26h-3.7M431.6,768.53h-3.7M431.6,765.79h-3.7M431.6,763.06h-3.7M431.6,760.32h-3.7M431.6,757.58h-3.7M431.6,754.85h-3.7M431.6,752.11h-3.7M431.6,749.38h-3.7M431.6,743.9h-3.7M431.6,741.17h-3.7M431.6,738.43h-3.7M431.6,735.7h-3.7M431.6,732.96h-3.7M431.6,730.22h-3.7M431.6,727.49h-3.7M431.6,724.75h-3.7M431.6,722.02h-3.7M431.6,716.54h-3.7M431.6,713.81h-3.7M431.6,711.07h-3.7M431.6,708.34h-3.7M431.6,705.6h-3.7M431.6,702.86h-3.7M431.6,700.13h-3.7M431.6,697.39h-3.7M431.6,694.66h-3.7M431.6,689.18h-3.7M431.6,686.45h-3.7M431.6,683.71h-3.7M431.6,680.98h-3.7M431.6,678.24h-3.7M431.6,675.5h-3.7M431.6,672.77h-3.7M431.6,670.03h-3.7M431.6,667.3h-3.7M431.6,661.82h-3.7M431.6,659.09h-3.7M431.6,656.35h-3.7M431.6,653.62h-3.7M431.6,650.88h-3.7M431.6,648.14h-3.7M431.6,645.41h-3.7M431.6,642.67h-3.7M431.6,639.94h-3.7" fill="none" stroke="#1c1c1c" stroke-width="1.7"/>
<text transform="translate(422.5 778.18) scale(1.07 1)" font-size="10.5" font-weight="bold" text-anchor="end">0</text>
<text transform="translate(422.5 750.82) scale(1.07 1)" font-size="10.5" font-weight="bold" text-anchor="end">500</text>
<text transform="translate(422.5 723.46) scale(1.07 1)" font-size="10.5" font-weight="bold" text-anchor="end">1000</text>
<text transform="translate(422.5 696.1) scale(1.07 1)" font-size="10.5" font-weight="bold" text-anchor="end">1500</text>
<text transform="translate(422.5 668.74) scale(1.07 1)" font-size="10.5" font-weight="bold" text-anchor="end">2000</text>
<text transform="translate(422.5 641.38) scale(1.07 1)" font-size="10.5" font-weight="bold" text-anchor="end">2500</text>
<text transform="translate(449.8 790.2) scale(1.22 1) rotate(-45)" font-size="9.2" font-weight="bold" text-anchor="end">Day 0</text>
<text transform="translate(483.22 790.2) scale(1.22 1) rotate(-45)" font-size="9.2" font-weight="bold" text-anchor="end">Day 5</text>
<text transform="translate(516.64 790.2) scale(1.22 1) rotate(-45)" font-size="9.2" font-weight="bold" text-anchor="end">Day 10</text>
<text transform="translate(550.06 790.2) scale(1.22 1) rotate(-45)" font-size="9.2" font-weight="bold" text-anchor="end">Day 15</text>
<text transform="translate(583.48 790.2) scale(1.22 1) rotate(-45)" font-size="9.2" font-weight="bold" text-anchor="end">Day 20</text>
<text transform="translate(616.9 790.2) scale(1.22 1) rotate(-45)" font-size="9.2" font-weight="bold" text-anchor="end">Day 25</text>
<text transform="translate(650.32 790.2) scale(1.22 1) rotate(-45)" font-size="9.2" font-weight="bold" text-anchor="end">Day 30</text>
<text transform="translate(364.8 632) scale(1.1 1)" font-size="13" font-weight="bold">(h)</text>
<text transform="translate(388.3 704.5) scale(1.1 1) rotate(-90)" font-size="12" font-weight="bold" text-anchor="middle"><tspan font-weight="normal">Δ</tspan><tspan font-style="italic">R</tspan><tspan dy="2.7" font-size="8.6">CT</tspan><tspan dy="-2.7"><tspan font-size="9"> </tspan>(k</tspan><tspan font-weight="normal">Ω</tspan>)</text>
<rect x="551.5" y="623.05" width="14.5" height="4.3" fill="#1c1c1c" stroke="#1c1c1c" stroke-width="2"/>
<text transform="translate(575.8 629.1) scale(1.08 1)" font-size="11.6">TNF-α aptamer<tspan dy="-4.2" font-size="8.4">ns</tspan></text>
<rect x="551.5" y="641.25" width="14.5" height="4.3" fill="#969696" stroke="#1c1c1c" stroke-width="2"/>
<text transform="translate(575.8 647.3) scale(1.08 1)" font-size="11.6">IL-6 aptamer<tspan dy="-4.2" font-size="8.4">ns</tspan></text>
<rect x="551.5" y="660.25" width="14.5" height="4.3" fill="#fff" stroke="#1c1c1c" stroke-width="2"/>
<text transform="translate(575.8 666.3) scale(1.08 1)" font-size="11.6">miR-155 aptamer<tspan dy="-4.2" font-size="8.4">ns</tspan></text>
</svg>
</body></html>
